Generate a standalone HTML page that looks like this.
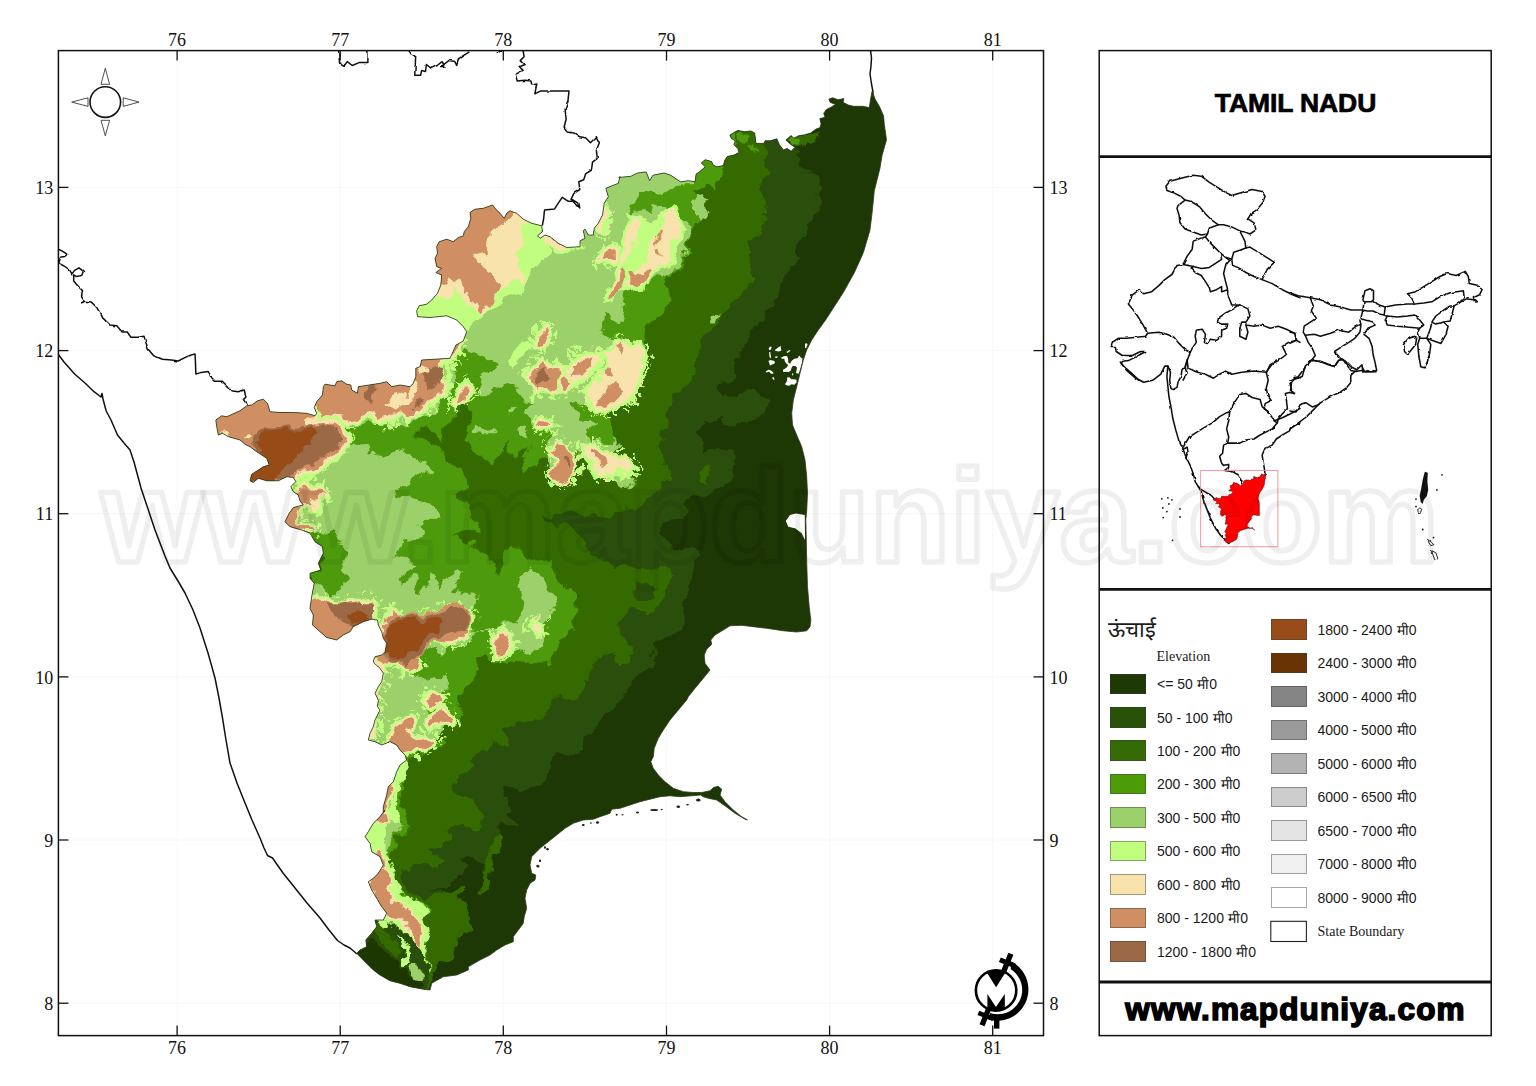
<!DOCTYPE html>
<html><head><meta charset="utf-8"><title>Tamil Nadu Elevation Map</title>
<style>
html,body{margin:0;padding:0;background:#fff;}
body{width:1536px;height:1086px;overflow:hidden;position:relative;font-family:"Liberation Serif",serif;color:#111;}
svg{position:absolute;left:0;top:0;}
.tick{position:absolute;font-family:"Liberation Serif",serif;font-size:18px;line-height:18px;color:#111;white-space:nowrap;}
.title{position:absolute;left:1100px;top:84px;width:391px;text-align:center;font-family:"Liberation Sans",sans-serif;font-weight:bold;font-size:26.5px;line-height:38px;color:#000;letter-spacing:-0.1px;-webkit-text-stroke:0.7px #000;}
.url{position:absolute;left:1100px;top:989.3px;width:391px;text-align:center;font-family:"Liberation Sans",sans-serif;font-weight:bold;font-size:31.5px;line-height:40px;color:#000;letter-spacing:1.15px;-webkit-text-stroke:1.6px #000;white-space:nowrap;}
.lg{position:absolute;font-family:"Liberation Sans",sans-serif;font-size:14px;line-height:20px;color:#1a1a1a;white-space:nowrap;}
.lgs{position:absolute;font-family:"Liberation Serif",serif;font-size:14px;line-height:20px;color:#1a1a1a;white-space:nowrap;}
.sw{position:absolute;width:36.6px;height:20.6px;box-sizing:border-box;border:1px solid rgba(60,60,60,.45);}
.mi{margin-left:0.5px;}
</style></head><body>
<svg width="1536" height="1086" viewBox="0 0 1536 1086">
<defs>
<clipPath id="frame"><rect x="58.4" y="50.6" width="985.1" height="984.9999999999999"/></clipPath>
<clipPath id="state"><path d="M872.1 91.3 L870.8 97.8 L869.3 107.6 L862.8 106.3 L853.6 106.3 L848.4 105.0 L843.2 102.4 L843.9 98.5 L838.0 99.8 L832.8 97.8 L828.9 99.1 L830.2 102.4 L835.4 104.3 L831.5 106.9 L826.3 109.5 L823.7 113.4 L825.0 117.3 L819.8 118.6 L821.1 123.9 L819.8 127.8 L815.9 129.1 L810.7 133.0 L804.2 134.9 L799.0 135.6 L793.8 138.2 L791.1 135.6 L785.9 140.1 L791.1 144.7 L795.1 147.3 L791.1 151.2 L787.2 148.6 L783.3 149.9 L779.4 144.7 L776.8 138.8 L770.3 140.8 L765.1 140.8 L763.8 143.4 L756.0 143.4 L754.7 133.0 L750.8 131.0 L744.3 131.7 L737.8 130.4 L729.9 134.9 L731.2 138.2 L735.2 140.8 L733.9 144.7 L737.8 148.6 L739.1 152.5 L733.9 155.1 L727.3 156.4 L724.7 160.3 L723.4 165.5 L716.9 166.8 L713.0 164.9 L711.7 161.6 L705.2 159.7 L701.3 162.9 L705.2 166.8 L700.0 171.4 L696.1 174.1 L695.0 181.8 L688.4 180.7 L680.6 181.8 L670.7 175.2 L664.0 173.0 L653.0 175.2 L649.6 180.7 L646.3 171.9 L637.5 173.0 L630.8 176.3 L618.7 177.4 L620.0 176.7 L618.3 183.3 L605.8 188.3 L608.3 196.7 L604.2 203.3 L602.5 215.0 L598.3 223.3 L594.2 228.3 L593.3 235.0 L588.3 235.0 L585.0 229.2 L583.3 230.8 L585.0 238.3 L580.0 240.8 L580.0 246.7 L566.7 247.5 L558.3 243.3 L550.0 236.7 L545.0 235.0 L540.0 238.3 L537.5 235.8 L542.5 231.7 L541.7 225.8 L531.7 223.3 L523.3 219.2 L516.7 213.3 L510.0 210.8 L506.7 213.3 L504.2 218.3 L500.0 213.3 L495.8 209.2 L492.5 205.0 L483.3 208.3 L475.0 209.2 L470.0 212.5 L470.8 218.3 L468.3 226.7 L464.2 231.7 L463.3 235.8 L458.3 237.5 L453.3 241.7 L446.7 239.2 L439.2 241.7 L436.7 246.7 L437.5 253.3 L435.0 258.3 L436.7 266.7 L441.7 268.3 L435.8 272.5 L441.7 275.0 L440.8 285.0 L437.5 293.3 L431.7 300.0 L426.7 304.2 L419.2 305.8 L416.7 310.8 L417.5 316.7 L430.0 317.5 L446.7 315.8 L456.7 320.0 L463.3 326.7 L466.7 331.7 L463.3 341.0 L456.0 345.0 L450.0 358.3 L421.7 360.0 L420.0 366.7 L415.8 368.3 L415.8 376.7 L413.3 383.3 L410.0 386.7 L400.0 385.0 L391.7 386.7 L386.7 381.7 L380.0 383.3 L358.3 386.7 L357.5 393.3 L351.7 390.0 L350.8 385.0 L346.7 384.2 L341.7 380.8 L336.7 381.7 L335.0 385.8 L325.0 384.2 L323.3 386.7 L322.5 395.0 L316.7 401.7 L314.2 407.5 L316.7 413.3 L315.0 415.8 L306.7 413.3 L293.3 412.5 L280.0 412.5 L270.0 411.7 L267.5 403.3 L263.3 399.2 L257.5 400.8 L251.7 405.0 L246.7 405.8 L240.0 410.8 L226.7 416.7 L221.7 415.8 L215.8 420.0 L216.7 426.7 L218.3 435.0 L222.5 433.3 L228.3 436.7 L240.0 440.0 L245.0 444.2 L250.0 446.7 L256.7 451.7 L261.7 455.0 L266.7 458.3 L269.2 465.0 L263.3 466.7 L258.3 470.0 L251.7 474.2 L250.0 480.8 L253.3 482.5 L258.3 478.3 L266.7 480.8 L278.3 480.8 L286.7 476.7 L293.3 477.5 L295.8 481.7 L290.8 486.7 L293.3 491.7 L298.3 495.0 L300.0 501.0 L303.3 505.0 L293.3 507.5 L289.2 513.3 L285.0 521.7 L290.0 526.7 L301.7 530.0 L310.0 533.3 L315.0 541.7 L322.5 546.7 L323.3 553.3 L318.3 563.3 L320.8 570.0 L310.0 573.3 L310.0 578.3 L314.2 583.3 L311.7 596.7 L310.0 608.3 L313.3 615.0 L312.5 625.0 L320.0 631.7 L326.7 637.5 L336.7 640.0 L343.3 635.0 L350.0 631.7 L353.3 626.7 L363.3 621.7 L371.7 619.2 L377.5 620.0 L378.3 625.0 L381.7 631.7 L383.3 638.3 L386.7 643.3 L385.0 651.7 L381.7 655.0 L375.0 656.7 L373.3 661.0 L374.2 663.3 L380.0 668.3 L383.3 673.3 L381.7 681.7 L378.3 686.7 L375.0 693.3 L378.3 700.0 L377.5 706.7 L380.0 710.0 L375.0 720.0 L373.3 726.7 L370.0 733.3 L368.3 740.0 L375.0 741.7 L381.7 745.0 L390.0 741.7 L396.7 745.0 L400.0 750.0 L405.0 755.0 L406.7 760.0 L400.0 765.0 L396.7 771.7 L393.3 781.7 L388.3 786.7 L386.7 795.0 L383.3 806.7 L383.3 813.3 L385.0 810.0 L380.0 816.7 L373.3 823.3 L368.3 831.7 L365.0 836.7 L370.0 843.3 L371.7 851.7 L380.0 856.7 L383.3 865.0 L378.3 873.3 L373.3 878.3 L368.3 881.7 L371.7 890.0 L376.7 898.3 L381.7 906.7 L386.7 913.3 L383.3 920.0 L375.0 920.0 L376.7 926.7 L371.7 933.3 L365.8 940.0 L366.7 946.7 L360.0 950.0 L356.7 953.3 L363.3 960.0 L373.3 970.0 L380.0 975.0 L390.0 980.8 L400.0 983.3 L410.0 986.7 L423.3 989.2 L430.0 990.0 L431.7 983.3 L443.3 976.7 L456.7 975.0 L468.3 970.0 L468.3 966.7 L480.0 960.0 L490.0 955.0 L496.7 950.0 L505.0 945.0 L513.3 941.7 L513.3 936.7 L518.3 930.0 L523.3 923.3 L524.2 916.7 L526.7 908.3 L525.0 898.3 L526.7 890.0 L530.0 883.3 L535.0 880.0 L535.8 875.0 L531.7 873.3 L530.0 865.0 L531.7 856.7 L540.0 848.3 L548.3 841.7 L556.7 835.0 L565.0 828.3 L573.3 823.3 L583.3 820.0 L593.3 819.2 L600.0 816.7 L610.0 813.3 L611.7 809.2 L620.0 808.3 L630.0 805.0 L640.0 801.7 L650.0 799.2 L660.0 796.7 L670.0 795.8 L680.0 796.7 L691.7 795.8 L700.8 795.0 L703.3 796.7 L708.3 798.3 L716.7 800.0 L725.0 805.8 L735.0 813.3 L745.0 819.2 L747.5 820.0 L741.7 816.7 L733.3 810.0 L725.0 801.7 L720.0 795.0 L721.7 789.2 L718.3 786.3 L713.3 787.5 L710.0 790.8 L701.7 792.5 L693.3 792.5 L683.3 791.7 L673.3 788.3 L665.0 781.7 L658.3 775.0 L653.3 768.3 L650.8 761.7 L653.3 756.7 L654.2 748.3 L658.3 738.3 L663.3 730.0 L670.0 720.0 L678.3 710.0 L686.7 700.0 L688.3 696.7 L695.0 688.3 L703.3 678.3 L710.0 670.0 L705.0 663.3 L704.2 655.0 L706.7 649.2 L711.7 644.2 L710.8 640.0 L715.0 635.0 L723.3 630.0 L730.0 625.8 L741.7 625.3 L753.3 626.7 L766.7 628.3 L783.3 630.8 L796.7 632.0 L806.7 630.8 L810.0 626.7 L810.8 620.0 L809.2 606.7 L807.5 586.7 L806.7 561.7 L806.3 540.0 L805.8 520.0 L806.7 511.0 L807.5 493.3 L806.7 476.7 L805.0 460.0 L801.7 446.7 L796.7 435.0 L792.5 425.0 L791.7 413.3 L793.3 400.0 L796.7 386.7 L800.0 373.3 L803.3 360.0 L806.7 350.0 L811.7 340.0 L818.3 330.0 L825.6 319.9 L843.3 292.5 L854.4 272.6 L863.3 252.7 L869.9 230.5 L872.1 212.8 L874.3 190.7 L879.9 168.5 L882.1 155.3 L886.5 139.8 L884.3 124.3 L883.6 116.0 L879.7 106.9 L875.1 99.1 L873.2 93.9Z"/></clipPath>
<filter id="rough" x="-5%" y="-5%" width="110%" height="110%"><feTurbulence type="fractalNoise" baseFrequency="0.055" numOctaves="4" seed="11" result="n"/><feDisplacementMap in="SourceGraphic" in2="n" scale="17" xChannelSelector="R" yChannelSelector="G"/></filter>
<filter id="wig2" x="-5%" y="-5%" width="110%" height="110%"><feTurbulence type="fractalNoise" baseFrequency="0.11" numOctaves="2" seed="5" result="n"/><feDisplacementMap in="SourceGraphic" in2="n" scale="2.6" xChannelSelector="R" yChannelSelector="G"/></filter>
<filter id="speck" x="-5%" y="-5%" width="110%" height="110%"><feTurbulence type="fractalNoise" baseFrequency="0.19" numOctaves="2" seed="21" result="n"/><feColorMatrix in="n" type="matrix" values="0 0 0 0 0  0 0 0 0 0  0 0 0 0 0  28 0 0 0 -15.7" result="m"/><feComposite in="SourceGraphic" in2="m" operator="in"/></filter>
<filter id="speck2" x="-5%" y="-5%" width="110%" height="110%"><feTurbulence type="fractalNoise" baseFrequency="0.23" numOctaves="2" seed="33" result="n"/><feColorMatrix in="n" type="matrix" values="0 0 0 0 0  0 0 0 0 0  0 0 0 0 0  0 28 0 0 -15.9" result="m"/><feComposite in="SourceGraphic" in2="m" operator="in"/></filter>
</defs>

<g stroke="#f8f8f8" stroke-width="1"><line x1="177.1" y1="50.6" x2="177.1" y2="1035.6"/><line x1="340.2" y1="50.6" x2="340.2" y2="1035.6"/><line x1="503.3" y1="50.6" x2="503.3" y2="1035.6"/><line x1="666.5" y1="50.6" x2="666.5" y2="1035.6"/><line x1="829.6" y1="50.6" x2="829.6" y2="1035.6"/><line x1="992.7" y1="50.6" x2="992.7" y2="1035.6"/><line x1="58.4" y1="1003.2" x2="1043.5" y2="1003.2"/><line x1="58.4" y1="840.0" x2="1043.5" y2="840.0"/><line x1="58.4" y1="676.9" x2="1043.5" y2="676.9"/><line x1="58.4" y1="513.7" x2="1043.5" y2="513.7"/><line x1="58.4" y1="350.6" x2="1043.5" y2="350.6"/><line x1="58.4" y1="187.4" x2="1043.5" y2="187.4"/></g>
<g clip-path="url(#frame)" fill="none" stroke="#111" stroke-width="1.5" stroke-linejoin="round">
<path d="M58.0 354.0 L64.0 362.0 L74.6 374.0 L85.0 383.0 L94.0 391.7 L101.0 397.0 L102.0 393.5 L103.0 399.0 L106.2 411.0 L111.0 420.0 L117.5 435.0 L124.0 443.0 L130.0 450.0 L134.0 462.0 L137.5 475.0 L141.0 488.0 L145.0 500.0 L150.0 515.0 L155.0 530.0 L160.0 543.0 L165.0 556.0 L170.0 568.0 L178.0 581.0 L185.0 593.0 L193.0 610.0 L200.0 628.0 L208.0 653.0 L215.0 678.0 L219.0 698.0 L222.5 718.0 L226.0 740.0 L230.0 763.0 L237.0 783.0 L245.0 803.0 L252.0 820.0 L260.0 838.0 L264.0 848.0 L267.5 855.5 L272.5 858.0 L283.0 873.0 L295.0 888.0 L307.0 903.0 L320.0 918.0 L329.0 930.0 L337.5 940.5 L344.0 945.0 L350.0 948.0 L357.0 954.0"/>
<path d="M58.4 249.3 L62.3 251.1 L67.6 254.6 L65.8 256.4 L60.5 257.2 L58.8 263.4 L64.1 266.0 L69.3 269.6 L72.0 273.9 L74.6 270.4 L79.0 267.8 L83.4 271.3 L81.6 275.7 L76.4 276.6 L73.7 274.8 L73.7 281.0 L78.1 286.2 L82.5 290.6 L81.6 296.8 L84.3 301.2 L81.6 302.9 L85.2 301.2 L91.3 302.1 L96.6 307.3 L101.0 314.4 L102.7 317.9 L109.8 324.9 L116.8 325.8 L122.1 332.0 L127.3 332.0 L130.9 337.2 L137.9 337.2 L144.0 336.3 L145.8 342.5 L148.4 349.5 L153.7 355.7 L162.5 359.2 L171.3 360.1 L178.3 361.0 L185.3 357.4 L190.6 355.2 L195.0 353.9 L195.5 363.6 L195.9 374.1 L201.2 372.4 L208.2 371.5 L211.7 377.7 L215.2 381.2 L222.3 381.2 L227.5 386.4 L231.1 390.8 L238.1 391.7 L244.2 390.0 L246.0 397.0 L243.4 399.6 L246.0 403.1 L248.6 405.8" filter="url(#wig2)"/>
<path d="M523.1 50.9 L524.1 56.7 L520.2 60.6 L524.1 64.5 L519.2 66.5 L523.1 70.4 L515.3 74.3 L517.3 81.1 L525.1 80.2 L530.9 81.1 L531.9 85.0 L536.8 84.1 L534.8 93.8 L540.7 90.9 L550.5 90.9 L560.2 90.9 L569.0 90.9 L568.0 101.6 L565.1 109.5 L566.1 119.2 L564.1 127.0 L568.0 131.9 L573.9 132.9 L579.8 136.8 L585.6 137.8 L590.5 142.7 L596.4 136.8 L599.3 142.7 L596.4 150.5 L597.3 158.3 L592.5 162.2 L591.5 170.0 L585.6 173.9 L583.7 179.8 L578.8 181.7 L579.8 189.5 L573.9 193.4 L571.0 199.3 L575.9 201.2 L578.8 203.2 L579.8 208.1 L573.9 201.2 L568.0 201.2 L562.2 197.3 L558.3 203.2 L554.4 209.1 L544.6 210.0 L543.6 218.8 L542.3 225.7" filter="url(#wig2)"/>
<path d="M338.6 50.9 L339.5 62.6 L344.4 65.5 L347.3 61.6 L352.2 65.5 L359.1 62.6 L367.9 62.6 L367.9 50.9" filter="url(#wig2)"/>
<path d="M408.9 50.9 L411.8 54.8 L415.7 56.7 L414.7 75.3 L420.6 75.3 L421.6 70.4 L425.5 71.4 L426.4 64.5 L431.3 68.4 L437.2 65.5 L442.1 61.6 L445.0 66.5 L441.1 66.5 L448.9 60.6 L454.8 61.6 L456.7 65.5 L458.7 58.7 L464.5 54.8 L469.4 51.8" filter="url(#wig2)"/>
<path d="M496.8 50.9 L498.7 52.0 L501.6 50.9" filter="url(#wig2)"/>
<path d="M870.5 50.0 L871.5 58.0 L871.0 66.0 L870.0 74.0 L871.5 84.0 L873.0 92.0 L872.5 96.0"/>
</g>
<g clip-path="url(#state)">
<rect x="200" y="80" width="720" height="930" fill="#1d3705"/>
<g filter="url(#rough)">
<path d="M792.0 138.0 L794.6 154.1 L799.0 164.1 L814.5 168.5 L822.0 178.0 L817.5 191.5 L822.5 202.0 L818.0 210.6 L810.0 212.5 L807.5 228.0 L808.0 235.0 L802.0 243.0 L800.0 249.0 L795.5 256.0 L790.0 265.0 L789.0 275.0 L782.5 285.0 L777.0 293.0 L778.0 303.0 L768.0 309.0 L763.5 320.0 L755.0 326.7 L748.0 333.0 L748.3 340.0 L743.3 346.7 L740.0 356.7 L736.7 366.7 L733.3 376.7 L726.7 383.3 L720.0 388.3 L730.0 396.7 L740.0 396.7 L746.7 393.3 L756.7 391.7 L765.0 396.7 L773.3 396.7 L768.3 406.7 L760.0 413.3 L753.3 418.3 L743.3 423.3 L736.7 428.3 L726.7 428.3 L721.7 423.3 L720.0 415.0 L715.0 423.3 L708.3 423.3 L705.0 418.3 L701.7 426.7 L696.7 433.3 L700.0 443.3 L703.3 453.3 L708.3 450.0 L716.7 446.7 L726.7 450.0 L736.7 453.3 L735.0 461.7 L730.0 470.0 L728.3 480.0 L723.3 488.3 L713.3 495.0 L705.0 500.0 L692.8 499.2 L686.2 501.4 L688.4 510.3 L683.9 517.0 L670.0 523.3 L660.0 530.0 L663.3 538.3 L666.7 543.3 L678.3 548.3 L690.0 548.3 L695.8 555.0 L695.0 566.7 L690.8 578.3 L690.0 590.0 L683.3 598.3 L686.7 613.3 L682.0 624.0 L676.7 628.3 L668.3 636.7 L658.3 645.0 L653.3 656.7 L646.7 666.7 L640.0 675.0 L630.0 686.7 L623.3 695.0 L618.3 703.3 L610.0 711.7 L600.0 721.7 L591.7 730.0 L588.0 742.0 L580.0 750.0 L571.0 756.0 L560.0 756.7 L551.7 756.0 L550.0 765.0 L552.0 774.0 L546.0 781.0 L534.0 787.0 L521.7 791.0 L510.0 787.0 L503.3 790.0 L500.0 800.0 L507.2 800.0 L510.7 807.0 L507.2 815.2 L513.0 823.4 L500.2 828.1 L502.5 835.2 L507.2 839.8 L504.8 849.2 L492.0 855.1 L490.8 870.3 L487.3 882.0 L483.8 893.8 L479.1 891.4 L482.6 882.0 L483.8 872.7 L479.1 865.6 L472.0 858.6 L466.2 855.1 L460.3 858.6 L465.0 865.6 L462.7 871.5 L453.3 877.3 L448.6 884.4 L441.6 887.9 L432.2 888.5 L441.6 892.6 L450.9 894.9 L458.0 891.4 L465.0 886.7 L465.0 893.8 L460.3 899.6 L465.0 905.5 L470.9 912.5 L473.2 919.5 L472.0 927.0 L470.0 930.0 L461.7 936.7 L456.7 943.3 L453.3 953.3 L445.0 960.0 L436.7 965.0 L433.3 973.3 L431.7 983.3 L431.0 1000.0 L150.0 1010.0 L150.0 70.0 L792.0 70.0Z" fill="#295007"/>
<path d="M764.0 138.0 L763.6 144.2 L765.8 153.0 L765.0 162.0 L768.5 176.0 L758.5 183.5 L761.5 193.0 L767.5 201.5 L765.0 214.0 L764.0 224.0 L759.5 235.0 L748.2 241.6 L752.0 253.0 L750.0 265.0 L754.0 278.0 L746.5 286.5 L743.5 293.0 L733.5 300.0 L731.0 308.0 L723.5 316.7 L718.0 326.7 L708.0 333.0 L700.0 340.0 L696.7 350.0 L700.0 357.0 L695.1 368.0 L689.0 375.0 L692.0 381.0 L687.0 388.2 L685.0 396.0 L674.5 395.2 L670.3 403.4 L662.5 411.5 L662.3 417.0 L667.5 423.3 L667.5 432.0 L662.5 438.5 L656.5 445.5 L660.5 455.0 L665.0 462.0 L671.5 469.0 L667.0 477.0 L656.5 482.5 L658.0 492.0 L650.0 503.0 L646.0 509.0 L636.7 510.0 L623.3 508.3 L613.3 518.3 L600.0 515.0 L590.0 511.7 L580.0 518.3 L568.3 515.0 L556.7 513.3 L545.0 518.3 L553.3 521.7 L563.3 523.3 L573.3 530.0 L580.0 538.3 L590.0 546.7 L596.7 553.3 L606.7 563.3 L613.3 570.0 L626.7 566.7 L636.7 570.0 L650.0 568.3 L662.0 568.0 L671.7 573.3 L668.0 590.0 L660.0 606.0 L645.0 612.0 L630.0 612.0 L621.7 620.0 L621.7 635.0 L628.3 645.0 L633.3 653.3 L626.7 660.0 L618.3 663.3 L613.3 656.7 L605.0 651.7 L598.3 661.7 L590.0 666.7 L585.0 676.7 L583.3 686.7 L580.0 696.7 L573.3 700.0 L565.0 695.0 L555.0 701.7 L546.7 710.0 L541.7 716.0 L530.0 720.0 L515.0 720.5 L506.7 729.0 L511.0 738.0 L508.3 746.7 L501.0 745.0 L493.3 741.0 L488.0 750.0 L477.0 751.0 L470.0 756.7 L473.3 766.7 L466.7 773.3 L456.7 780.0 L451.7 786.7 L456.7 793.3 L466.7 795.0 L474.0 800.0 L474.4 807.0 L479.1 811.7 L481.4 823.4 L476.7 829.3 L472.0 825.8 L465.0 821.1 L460.3 823.4 L453.3 831.6 L448.6 841.0 L440.4 845.7 L434.5 850.4 L425.2 852.7 L436.9 856.2 L443.9 863.3 L436.9 866.8 L425.2 865.6 L413.4 868.0 L401.7 872.7 L400.5 879.7 L405.2 889.1 L413.4 896.1 L422.8 899.6 L429.8 896.1 L441.6 892.6 L450.9 894.9 L458.0 891.4 L465.0 886.7 L465.0 893.8 L460.3 899.6 L465.0 905.5 L470.9 912.5 L473.2 919.5 L472.0 927.0 L470.0 930.0 L461.7 936.7 L456.7 943.3 L453.3 953.3 L445.0 960.0 L436.7 965.0 L433.3 973.3 L431.7 983.3 L431.0 1000.0 L150.0 1010.0 L150.0 70.0 L764.0 70.0Z" fill="#346b06"/>
<path d="M635.0 582.0 L648.0 580.0 L656.0 590.0 L652.0 602.0 L640.0 603.0 L634.0 594.0Z" fill="#295007"/>
<path d="M492.0 855.1 L504.8 849.2 L507.2 839.8 L502.5 835.2 L495.5 838.7 L490.8 846.9 L486.1 856.2 L482.6 863.3 L483.8 872.7 L482.6 882.0 L479.1 891.4 L483.8 893.8 L487.3 882.0 L490.8 870.3Z" fill="#346b06"/>
<path d="M697.4 477.2 L702.1 469.0 L710.3 467.8 L709.1 472.5 L705.6 477.2 L710.3 481.9 L700.9 481.9Z" fill="#346b06"/>
<path d="M738.0 138.0 L737.8 151.2 L731.0 154.0 L726.0 157.7 L722.0 163.0 L720.8 168.1 L719.5 178.5 L716.7 188.3 L708.3 185.0 L701.7 191.7 L693.3 193.3 L700.0 198.3 L710.0 200.0 L708.3 210.0 L706.7 218.3 L696.7 225.0 L690.0 230.0 L691.7 238.3 L686.7 246.7 L693.3 253.3 L683.3 256.7 L678.3 263.3 L675.0 273.3 L666.7 281.7 L670.0 291.7 L671.7 301.7 L663.3 308.3 L655.0 315.0 L645.0 323.0 L641.7 330.0 L646.7 340.0 L644.0 350.0 L639.0 362.0 L638.3 376.7 L637.0 393.3 L630.0 400.0 L621.0 406.0 L611.7 411.5 L611.5 421.5 L614.0 432.0 L616.5 443.0 L612.5 452.5 L623.3 461.0 L634.0 466.7 L628.3 475.0 L635.0 480.0 L638.3 486.7 L630.0 483.3 L618.3 485.0 L613.3 480.0 L606.7 476.7 L596.7 473.3 L591.7 466.7 L586.7 458.3 L583.3 450.0 L576.7 461.7 L575.0 470.0 L570.0 480.0 L556.7 483.3 L550.0 478.3 L550.0 465.0 L546.7 458.3 L536.7 461.7 L530.0 466.7 L523.3 473.3 L520.0 466.7 L523.3 456.7 L528.3 448.3 L521.7 451.7 L513.3 458.3 L508.3 453.3 L510.0 443.3 L501.7 455.0 L496.7 466.7 L493.3 470.0 L488.3 463.3 L480.0 455.0 L471.7 448.3 L463.3 440.0 L458.3 435.0 L453.3 440.0 L446.7 443.3 L438.0 436.0 L430.0 430.0 L425.0 428.0 L418.0 430.0 L416.0 436.0 L422.0 442.0 L430.0 443.3 L440.0 446.7 L448.3 453.3 L453.3 463.3 L461.7 470.0 L465.0 480.0 L466.7 490.0 L456.7 498.3 L468.3 505.0 L470.0 515.0 L483.3 520.0 L480.0 528.3 L465.0 530.0 L453.3 535.0 L470.0 540.0 L475.0 550.0 L483.3 558.3 L493.3 561.7 L500.0 576.7 L503.3 566.7 L506.7 555.0 L513.3 546.7 L520.0 553.3 L526.7 556.7 L536.7 558.3 L546.7 563.3 L553.3 561.7 L556.7 570.0 L558.3 580.0 L563.3 586.7 L575.0 593.3 L576.7 603.3 L575.0 613.3 L573.0 621.7 L577.0 629.0 L570.0 634.0 L563.3 638.3 L556.7 643.3 L553.3 653.3 L550.0 660.0 L543.3 662.5 L533.3 665.0 L523.3 663.3 L508.3 665.0 L500.0 661.7 L488.3 656.7 L478.3 661.7 L483.3 668.3 L475.0 675.0 L471.7 683.3 L466.7 690.0 L460.0 696.7 L458.3 706.7 L466.7 711.7 L460.0 718.3 L450.0 723.3 L443.3 726.7 L433.3 733.3 L426.7 738.3 L433.3 740.0 L441.7 741.7 L446.7 746.7 L433.3 750.0 L420.0 755.0 L413.3 760.0 L408.3 766.7 L405.0 773.3 L403.3 781.7 L401.7 790.0 L400.0 798.3 L401.7 806.7 L406.7 813.3 L406.7 821.0 L405.0 830.0 L395.0 840.0 L392.0 850.0 L388.0 862.0 L392.0 872.0 L397.0 880.0 L402.0 890.0 L405.0 897.0 L430.0 903.0 L431.7 910.0 L425.0 916.7 L426.7 926.7 L430.0 936.7 L428.3 946.7 L426.7 956.7 L430.0 970.0 L428.3 976.7 L428.0 1000.0 L150.0 1010.0 L150.0 70.0 L738.0 70.0Z" fill="#4d9b07"/>
<path d="M740.0 136.0 L747.0 133.0 L752.0 138.0 L748.0 143.0 L742.0 142.0Z" fill="#4d9b07"/>
<path d="M745.0 146.0 L752.0 144.0 L756.0 148.0 L750.0 151.0Z" fill="#4d9b07"/>
<path d="M786.0 141.0 L795.0 136.0 L812.0 134.0 L825.0 133.0 L822.0 140.0 L808.0 143.0 L796.0 146.0Z" fill="#346b06"/>
<path d="M786.0 141.0 L795.0 137.0 L803.0 138.0 L800.0 144.0 L792.0 146.0Z" fill="#4d9b07"/>
<path d="M695.0 160.0 L695.0 176.7 L695.0 183.3 L683.3 183.3 L670.0 185.0 L656.7 191.7 L648.3 193.3 L636.7 191.7 L636.7 201.7 L630.0 211.7 L638.3 208.3 L646.7 206.7 L650.0 215.0 L658.3 203.3 L668.3 210.0 L678.3 211.7 L681.7 218.3 L688.3 223.3 L690.0 230.0 L689.0 238.0 L684.0 247.0 L690.0 253.0 L681.0 257.0 L676.0 263.0 L672.0 273.0 L664.0 281.0 L658.3 276.7 L650.0 283.3 L641.7 286.7 L633.3 291.7 L625.0 295.0 L621.7 305.0 L623.3 315.0 L620.0 323.3 L610.0 320.0 L603.3 316.7 L601.7 330.0 L610.0 336.7 L618.3 341.7 L626.7 338.3 L635.0 341.7 L645.0 345.0 L643.3 350.0 L638.3 363.3 L638.3 376.7 L636.7 393.3 L630.0 398.0 L620.0 403.0 L611.0 410.0 L600.0 406.7 L593.3 400.0 L583.3 401.7 L573.3 405.0 L576.7 413.3 L580.0 421.7 L590.0 420.0 L596.7 423.3 L590.0 426.7 L583.3 433.3 L586.7 440.0 L595.0 443.3 L600.0 436.7 L610.0 440.0 L615.0 437.0 L618.3 446.7 L613.3 453.3 L623.3 460.0 L635.0 466.7 L628.3 475.0 L635.0 480.0 L636.0 486.0 L630.0 483.3 L618.3 485.0 L613.3 480.0 L606.7 476.7 L596.7 473.3 L591.7 466.7 L586.7 458.3 L583.3 449.0 L577.0 451.0 L575.0 462.0 L574.0 472.0 L570.0 480.0 L556.7 483.3 L550.0 478.3 L550.0 465.0 L546.7 458.3 L550.0 446.7 L553.3 436.7 L546.7 430.0 L533.3 428.3 L528.3 420.0 L530.0 410.0 L536.7 401.7 L523.3 401.7 L515.0 396.7 L516.7 388.3 L510.0 385.0 L496.7 388.3 L485.0 393.3 L471.7 393.3 L478.3 386.7 L483.3 378.3 L488.3 370.0 L498.3 365.0 L488.3 360.0 L478.3 356.7 L471.7 351.7 L463.3 353.3 L455.0 358.3 L453.3 366.7 L456.7 375.0 L453.3 386.7 L450.0 395.0 L440.0 400.0 L433.3 413.3 L423.3 416.7 L413.3 421.7 L400.0 423.3 L390.0 426.7 L380.0 423.3 L370.0 421.7 L360.0 426.7 L350.0 428.3 L343.3 426.7 L346.7 436.7 L350.0 443.3 L343.3 453.3 L300.0 500.0 L200.0 500.0 L200.0 160.0Z" fill="#9bd06a"/>
<path d="M343.3 453.3 L346.7 446.7 L356.7 443.3 L366.7 441.7 L368.3 446.7 L365.0 451.7 L375.0 455.0 L386.7 456.7 L396.7 451.7 L401.7 450.0 L408.3 455.0 L415.0 460.0 L423.3 465.0 L431.7 470.0 L433.3 473.3 L423.3 475.0 L415.0 473.3 L410.0 478.3 L406.7 485.0 L400.0 488.3 L395.0 490.0 L396.7 496.7 L413.3 501.7 L435.0 508.3 L440.0 513.3 L425.0 518.3 L418.3 525.0 L423.3 531.7 L418.3 538.3 L403.3 541.7 L400.0 546.7 L390.0 553.3 L396.7 553.3 L411.7 556.7 L413.3 566.7 L403.3 571.7 L398.3 576.7 L401.7 586.7 L406.7 578.3 L415.0 576.7 L418.3 588.3 L421.7 596.7 L425.0 586.7 L430.0 578.3 L438.3 580.0 L441.7 586.7 L446.7 578.3 L451.7 570.0 L460.0 565.0 L465.0 568.3 L460.0 575.0 L455.0 582.0 L456.7 592.0 L463.3 595.0 L476.7 596.7 L490.0 585.0 L505.0 578.0 L520.0 575.0 L525.0 573.3 L530.0 568.3 L540.0 573.3 L545.0 580.0 L543.3 588.3 L550.0 596.7 L556.7 606.7 L550.0 613.3 L545.0 621.7 L546.7 630.0 L543.3 638.3 L536.7 646.7 L530.0 653.3 L523.3 656.0 L513.3 655.0 L506.7 656.7 L496.7 655.0 L491.7 650.0 L490.0 640.0 L491.7 633.3 L486.7 631.0 L478.3 632.5 L472.0 636.0 L468.0 640.0 L460.0 646.7 L450.0 648.3 L443.3 651.7 L433.3 650.0 L423.3 653.3 L416.7 660.0 L415.0 668.3 L416.7 675.0 L423.3 681.7 L433.3 680.0 L445.0 676.7 L450.0 681.7 L445.0 688.3 L438.3 695.0 L433.3 703.3 L426.7 710.0 L431.7 713.3 L438.3 711.7 L446.7 713.3 L455.0 718.3 L450.0 726.7 L443.3 728.3 L436.7 733.3 L433.3 741.7 L426.7 746.7 L416.7 751.7 L408.3 755.0 L406.7 760.0 L408.3 766.7 L405.0 773.3 L401.7 781.7 L398.3 790.0 L396.7 798.3 L398.3 806.7 L400.0 821.0 L401.0 830.0 L392.0 840.0 L389.0 850.0 L385.0 862.0 L389.0 872.0 L394.0 880.0 L399.0 890.0 L402.0 897.0 L426.0 903.0 L428.0 910.0 L422.0 917.0 L423.0 927.0 L427.0 937.0 L425.0 947.0 L423.0 957.0 L427.0 968.0 L427.0 1000.0 L200.0 1000.0 L200.0 460.0Z" fill="#9bd06a"/>
<path d="M480.0 596.7 L483.3 586.7 L490.0 580.0 L496.7 578.3 L500.0 572.0 L503.3 566.7 L506.7 555.0 L513.3 546.7 L520.0 553.3 L523.3 563.3 L525.0 573.3 L520.0 586.7 L521.7 600.0 L520.0 613.3 L513.3 620.0 L503.3 621.7 L496.7 626.7 L486.7 630.0 L478.3 631.7 L475.0 626.7 L473.3 616.7 L475.0 606.7 L476.7 596.7Z" fill="#4d9b07"/>
<path d="M300.0 533.0 L310.0 533.3 L323.3 531.7 L331.7 535.0 L336.7 543.3 L346.7 548.3 L345.0 558.3 L341.7 566.7 L346.7 575.0 L345.0 586.7 L338.3 590.0 L333.3 596.7 L326.7 590.0 L320.0 583.3 L314.2 583.3 L300.0 584.0Z" fill="#4d9b07"/>
<path d="M300.0 538.0 L314.0 540.0 L322.0 548.0 L323.0 560.0 L319.0 572.0 L312.0 580.0 L300.0 582.0Z" fill="#346b06"/>
<path d="M692.0 200.0 L700.0 197.0 L708.0 200.0 L710.0 210.0 L706.0 220.0 L698.0 224.0 L692.0 215.0Z" fill="#9bd06a"/>
<path d="M710.0 318.3 L715.0 316.7 L719.2 320.0 L717.5 325.0 L712.5 325.8Z" fill="#9bd06a"/>
<path d="M541.7 233.3 L546.7 243.3 L550.0 253.3 L546.7 260.0 L540.0 263.3 L533.3 266.7 L531.7 276.7 L526.7 286.7 L520.0 293.3 L508.3 300.0 L500.0 306.7 L493.3 310.0 L483.3 318.3 L473.3 323.3 L466.7 330.0 L463.0 338.0 L400.0 338.0 L400.0 200.0 L541.0 200.0Z" fill="#c1fd7f"/>
<path d="M541.7 233.3 L545.0 235.0 L558.3 243.3 L566.7 247.5 L580.0 246.7 L578.0 252.0 L565.0 254.0 L552.0 252.0 L546.7 243.3Z" fill="#c1fd7f"/>
<path d="M528.3 223.3 L523.3 230.0 L525.0 240.0 L521.7 250.0 L515.0 255.0 L516.7 266.7 L523.3 276.7 L525.0 286.7 L520.0 288.3 L515.0 281.7 L506.7 283.3 L500.0 286.7 L496.7 290.0 L493.3 300.0 L490.0 308.3 L483.3 316.7 L478.3 313.3 L473.3 306.7 L466.7 303.3 L461.7 293.3 L455.0 290.0 L450.0 293.3 L443.3 298.3 L438.3 295.0 L425.0 295.0 L425.0 200.0 L530.0 200.0Z" fill="#f8e3ad"/>
<path d="M543.3 235.0 L550.0 237.0 L558.0 243.0 L566.7 247.5 L566.0 250.0 L556.0 250.0 L546.0 243.0Z" fill="#f8e3ad"/>
<path d="M515.0 211.7 L510.0 220.0 L498.3 226.7 L493.3 233.3 L486.7 238.3 L488.3 250.0 L483.3 255.0 L478.3 250.0 L473.3 256.7 L480.0 266.7 L483.3 273.3 L490.0 271.7 L495.0 280.0 L496.7 290.0 L493.3 298.3 L490.0 306.7 L483.3 301.7 L481.7 315.0 L478.3 310.0 L476.7 298.3 L470.0 303.3 L466.7 290.0 L463.3 278.3 L455.0 283.3 L450.0 276.7 L445.0 286.7 L440.0 288.3 L425.0 290.0 L425.0 200.0 L515.0 200.0Z" fill="#cf8f63"/>
<path d="M628.3 210.0 L640.0 215.0 L650.0 223.3 L663.3 213.3 L673.3 206.7 L683.3 213.3 L681.7 230.0 L678.3 246.7 L673.3 260.0 L665.0 268.3 L655.0 273.3 L651.7 281.7 L641.7 288.3 L630.0 293.3 L618.3 293.3 L613.3 303.3 L604.2 303.3 L605.8 286.7 L613.3 273.3 L618.3 260.0 L623.3 243.3 L626.7 226.7Z" fill="#c1fd7f"/>
<path d="M631.7 215.0 L638.3 218.3 L638.3 230.0 L633.3 246.7 L626.7 260.0 L620.0 273.3 L616.7 286.7 L611.7 298.3 L606.7 300.0 L608.3 290.0 L610.0 280.0 L616.7 273.3 L620.0 263.3 L623.3 253.3 L626.7 243.3 L630.0 231.7Z" fill="#f8e3ad"/>
<path d="M671.7 210.0 L680.0 215.0 L678.3 226.7 L676.7 236.7 L673.3 246.7 L670.0 256.7 L663.3 263.3 L653.3 268.3 L650.0 276.7 L641.7 283.3 L631.7 288.3 L626.7 286.7 L633.3 276.7 L638.3 266.7 L643.3 256.7 L650.0 246.7 L655.0 236.7 L660.0 226.7 L666.7 216.7Z" fill="#f8e3ad"/>
<g filter="url(#speck)" fill="#c1fd7f" stroke="#c1fd7f" stroke-width="19" stroke-linejoin="round">
<path d="M602.5 258.3 L605.0 251.7 L610.0 250.0 L615.8 253.3 L615.8 260.0 L608.3 260.0 L603.3 261.7Z"/>
<path d="M598.0 215.0 L603.0 211.0 L607.0 215.0 L605.0 228.0 L599.0 230.0Z"/>
<path d="M603.3 353.3 L613.3 346.7 L618.3 341.7 L623.3 345.0 L636.7 345.0 L643.3 353.3 L638.3 370.0 L636.7 383.3 L636.7 393.3 L630.0 400.0 L621.7 406.7 L611.7 410.0 L600.0 406.7 L590.0 398.3 L585.0 393.3 L593.3 386.7 L603.3 378.3 L606.7 370.0 L608.3 361.7Z"/>
<path d="M563.3 375.0 L571.7 363.3 L580.0 356.7 L593.3 353.3 L601.7 356.7 L596.7 368.3 L590.0 376.7 L580.0 380.0 L571.7 383.3 L563.3 386.7 L556.7 386.7 L560.0 380.0Z"/>
<path d="M530.0 378.3 L533.3 370.0 L540.0 363.3 L546.7 365.0 L553.3 363.3 L560.0 370.0 L558.3 378.3 L553.3 385.0 L545.0 390.0 L536.7 391.7 L533.3 385.0Z"/>
<path d="M560.0 380.0 L566.0 377.0 L569.0 383.0 L565.0 389.0 L559.0 387.0Z"/>
<path d="M536.7 340.0 L540.0 333.3 L546.7 328.3 L546.7 336.7 L543.3 345.0 L536.7 346.7Z"/>
<path d="M551.7 448.3 L556.7 444.2 L565.0 445.0 L571.7 451.7 L575.0 458.3 L573.3 470.0 L568.3 478.3 L560.0 481.7 L553.3 478.3 L551.7 468.3 L558.3 460.0 L555.0 455.0Z"/>
<path d="M586.7 448.3 L596.7 446.7 L610.0 451.7 L618.3 460.0 L630.0 463.3 L635.0 466.7 L626.7 473.3 L616.7 470.0 L606.7 475.0 L596.7 473.3 L590.0 465.0 L585.0 456.7Z"/>
<path d="M535.0 425.0 L540.0 422.0 L548.0 423.0 L553.0 425.0 L548.0 428.0 L538.0 428.0Z"/>
<path d="M456.7 400.0 L460.0 391.7 L465.0 385.0 L466.7 391.7 L463.3 401.7 L458.3 405.0Z"/>
<path d="M316.7 413.3 L326.7 415.0 L343.3 418.3 L350.0 421.7 L356.7 420.0 L360.0 415.0 L370.0 413.3 L376.7 413.3 L381.7 418.3 L390.0 420.0 L396.7 413.3 L401.7 410.0 L413.3 413.3 L425.0 406.7 L430.0 401.7 L435.0 396.7 L443.3 393.3 L445.0 385.0 L438.3 380.0 L435.0 370.0 L442.0 362.0 L452.0 357.0 L460.0 350.0 L460.0 340.0 L300.0 340.0 L300.0 410.0Z"/>
<path d="M316.5 416.2 L309.2 417.3 L301.9 419.4 L302.9 423.5 L313.3 422.5 L324.8 422.0 L334.2 425.1 L342.5 430.8 L345.6 439.2 L343.5 446.5 L337.3 450.6 L331.0 454.8 L324.8 460.0 L318.5 464.2 L312.3 468.3 L306.0 471.5 L299.8 474.6 L294.6 476.7 L292.5 485.0 L246.7 489.2 L205.0 437.1 L205.0 405.8 L257.1 390.2 L316.5 411.0Z"/>
<path d="M303.3 486.7 L320.0 490.0 L323.3 495.0 L315.0 498.3 L313.3 505.0 L303.3 505.0 L300.0 498.3Z"/>
<path d="M293.3 507.5 L289.2 513.3 L285.8 521.7 L290.0 526.7 L301.7 530.0 L313.3 528.3 L308.3 525.0 L296.7 523.3 L291.7 518.3 L295.0 511.7 L303.3 508.3 L296.0 504.0 L284.0 508.0 L280.0 524.0 L290.0 532.0Z"/>
<path d="M313.3 603.3 L323.3 600.0 L336.7 603.3 L346.7 606.7 L353.3 601.7 L363.3 603.3 L373.3 603.3 L375.0 611.7 L371.7 619.2 L372.0 630.0 L350.0 645.0 L320.0 645.0 L305.0 625.0 L305.0 605.0Z"/>
<path d="M386.7 621.7 L390.0 613.3 L396.7 615.0 L405.0 618.3 L413.3 620.0 L426.7 616.7 L438.3 611.7 L446.7 608.3 L455.0 610.0 L463.3 613.3 L470.0 616.7 L466.7 625.0 L463.3 633.3 L455.0 638.3 L450.0 643.3 L443.3 640.0 L435.0 636.7 L426.7 643.3 L418.3 646.7 L413.3 653.3 L418.0 660.0 L415.0 667.0 L406.0 669.0 L398.0 664.0 L392.0 660.0 L383.0 658.0 L372.0 660.0 L370.0 650.0 L380.0 640.0 L380.0 625.0Z"/>
<path d="M495.0 638.3 L501.7 633.3 L508.3 636.7 L511.7 645.0 L508.3 651.7 L501.7 653.3 L496.7 646.7Z"/>
<path d="M531.7 625.0 L536.7 621.7 L541.7 625.0 L540.0 630.0 L534.2 630.8Z"/>
<path d="M495.0 638.3 L501.7 634.2 L508.3 636.7 L510.8 643.3 L506.7 650.8 L500.0 651.7 L496.7 645.0Z"/>
<path d="M531.7 625.0 L536.7 621.7 L543.3 624.2 L542.5 630.0 L535.8 631.7Z"/>
<path d="M393.3 730.0 L400.0 721.7 L406.7 718.3 L410.0 723.3 L406.7 731.7 L413.3 740.0 L420.0 735.0 L426.7 740.0 L433.3 741.7 L426.7 746.7 L416.7 750.0 L408.3 753.3 L403.3 755.0 L400.0 750.0 L396.7 745.0 L390.0 741.7 L393.3 736.7Z"/>
<path d="M431.7 720.0 L438.3 713.3 L446.7 715.0 L453.3 718.3 L450.0 725.0 L440.0 723.3 L433.3 723.3Z"/>
<path d="M426.0 700.0 L431.0 695.0 L438.0 697.0 L436.0 704.0 L429.0 705.0Z"/>
<path d="M370.0 654.0 L386.0 654.0 L384.0 662.0 L378.0 667.0 L370.0 664.0Z"/>
<path d="M373.3 658.3 L380.0 668.3 L383.3 673.3 L381.7 681.7 L378.3 686.7 L375.0 693.3 L378.3 700.0 L377.5 706.7 L380.0 710.0 L375.0 720.0 L373.3 726.7 L370.0 733.3 L368.3 740.0 L366.7 740.0 L366.7 656.7Z"/>
<path d="M393.3 781.7 L390.8 786.7 L390.0 795.0 L386.7 806.7 L385.8 813.3 L381.7 813.3 L381.7 781.7Z"/>
</g>
<g filter="url(#speck2)" fill="#f8e3ad" stroke="#f8e3ad" stroke-width="10" stroke-linejoin="round">
<path d="M602.5 258.3 L605.0 251.7 L610.0 250.0 L615.8 253.3 L615.8 260.0 L608.3 260.0 L603.3 261.7Z"/>
<path d="M598.0 215.0 L603.0 211.0 L607.0 215.0 L605.0 228.0 L599.0 230.0Z"/>
<path d="M603.3 353.3 L613.3 346.7 L618.3 341.7 L623.3 345.0 L636.7 345.0 L643.3 353.3 L638.3 370.0 L636.7 383.3 L636.7 393.3 L630.0 400.0 L621.7 406.7 L611.7 410.0 L600.0 406.7 L590.0 398.3 L585.0 393.3 L593.3 386.7 L603.3 378.3 L606.7 370.0 L608.3 361.7Z"/>
<path d="M563.3 375.0 L571.7 363.3 L580.0 356.7 L593.3 353.3 L601.7 356.7 L596.7 368.3 L590.0 376.7 L580.0 380.0 L571.7 383.3 L563.3 386.7 L556.7 386.7 L560.0 380.0Z"/>
<path d="M530.0 378.3 L533.3 370.0 L540.0 363.3 L546.7 365.0 L553.3 363.3 L560.0 370.0 L558.3 378.3 L553.3 385.0 L545.0 390.0 L536.7 391.7 L533.3 385.0Z"/>
<path d="M560.0 380.0 L566.0 377.0 L569.0 383.0 L565.0 389.0 L559.0 387.0Z"/>
<path d="M536.7 340.0 L540.0 333.3 L546.7 328.3 L546.7 336.7 L543.3 345.0 L536.7 346.7Z"/>
<path d="M551.7 448.3 L556.7 444.2 L565.0 445.0 L571.7 451.7 L575.0 458.3 L573.3 470.0 L568.3 478.3 L560.0 481.7 L553.3 478.3 L551.7 468.3 L558.3 460.0 L555.0 455.0Z"/>
<path d="M586.7 448.3 L596.7 446.7 L610.0 451.7 L618.3 460.0 L630.0 463.3 L635.0 466.7 L626.7 473.3 L616.7 470.0 L606.7 475.0 L596.7 473.3 L590.0 465.0 L585.0 456.7Z"/>
<path d="M535.0 425.0 L540.0 422.0 L548.0 423.0 L553.0 425.0 L548.0 428.0 L538.0 428.0Z"/>
<path d="M456.7 400.0 L460.0 391.7 L465.0 385.0 L466.7 391.7 L463.3 401.7 L458.3 405.0Z"/>
<path d="M316.7 413.3 L326.7 415.0 L343.3 418.3 L350.0 421.7 L356.7 420.0 L360.0 415.0 L370.0 413.3 L376.7 413.3 L381.7 418.3 L390.0 420.0 L396.7 413.3 L401.7 410.0 L413.3 413.3 L425.0 406.7 L430.0 401.7 L435.0 396.7 L443.3 393.3 L445.0 385.0 L438.3 380.0 L435.0 370.0 L442.0 362.0 L452.0 357.0 L460.0 350.0 L460.0 340.0 L300.0 340.0 L300.0 410.0Z"/>
<path d="M316.5 416.2 L309.2 417.3 L301.9 419.4 L302.9 423.5 L313.3 422.5 L324.8 422.0 L334.2 425.1 L342.5 430.8 L345.6 439.2 L343.5 446.5 L337.3 450.6 L331.0 454.8 L324.8 460.0 L318.5 464.2 L312.3 468.3 L306.0 471.5 L299.8 474.6 L294.6 476.7 L292.5 485.0 L246.7 489.2 L205.0 437.1 L205.0 405.8 L257.1 390.2 L316.5 411.0Z"/>
<path d="M303.3 486.7 L320.0 490.0 L323.3 495.0 L315.0 498.3 L313.3 505.0 L303.3 505.0 L300.0 498.3Z"/>
<path d="M293.3 507.5 L289.2 513.3 L285.8 521.7 L290.0 526.7 L301.7 530.0 L313.3 528.3 L308.3 525.0 L296.7 523.3 L291.7 518.3 L295.0 511.7 L303.3 508.3 L296.0 504.0 L284.0 508.0 L280.0 524.0 L290.0 532.0Z"/>
<path d="M313.3 603.3 L323.3 600.0 L336.7 603.3 L346.7 606.7 L353.3 601.7 L363.3 603.3 L373.3 603.3 L375.0 611.7 L371.7 619.2 L372.0 630.0 L350.0 645.0 L320.0 645.0 L305.0 625.0 L305.0 605.0Z"/>
<path d="M386.7 621.7 L390.0 613.3 L396.7 615.0 L405.0 618.3 L413.3 620.0 L426.7 616.7 L438.3 611.7 L446.7 608.3 L455.0 610.0 L463.3 613.3 L470.0 616.7 L466.7 625.0 L463.3 633.3 L455.0 638.3 L450.0 643.3 L443.3 640.0 L435.0 636.7 L426.7 643.3 L418.3 646.7 L413.3 653.3 L418.0 660.0 L415.0 667.0 L406.0 669.0 L398.0 664.0 L392.0 660.0 L383.0 658.0 L372.0 660.0 L370.0 650.0 L380.0 640.0 L380.0 625.0Z"/>
<path d="M495.0 638.3 L501.7 633.3 L508.3 636.7 L511.7 645.0 L508.3 651.7 L501.7 653.3 L496.7 646.7Z"/>
<path d="M531.7 625.0 L536.7 621.7 L541.7 625.0 L540.0 630.0 L534.2 630.8Z"/>
<path d="M495.0 638.3 L501.7 634.2 L508.3 636.7 L510.8 643.3 L506.7 650.8 L500.0 651.7 L496.7 645.0Z"/>
<path d="M531.7 625.0 L536.7 621.7 L543.3 624.2 L542.5 630.0 L535.8 631.7Z"/>
<path d="M393.3 730.0 L400.0 721.7 L406.7 718.3 L410.0 723.3 L406.7 731.7 L413.3 740.0 L420.0 735.0 L426.7 740.0 L433.3 741.7 L426.7 746.7 L416.7 750.0 L408.3 753.3 L403.3 755.0 L400.0 750.0 L396.7 745.0 L390.0 741.7 L393.3 736.7Z"/>
<path d="M431.7 720.0 L438.3 713.3 L446.7 715.0 L453.3 718.3 L450.0 725.0 L440.0 723.3 L433.3 723.3Z"/>
<path d="M426.0 700.0 L431.0 695.0 L438.0 697.0 L436.0 704.0 L429.0 705.0Z"/>
<path d="M370.0 654.0 L386.0 654.0 L384.0 662.0 L378.0 667.0 L370.0 664.0Z"/>
<path d="M373.3 658.3 L380.0 668.3 L383.3 673.3 L381.7 681.7 L378.3 686.7 L375.0 693.3 L378.3 700.0 L377.5 706.7 L380.0 710.0 L375.0 720.0 L373.3 726.7 L370.0 733.3 L368.3 740.0 L366.7 740.0 L366.7 656.7Z"/>
<path d="M393.3 781.7 L390.8 786.7 L390.0 795.0 L386.7 806.7 L385.8 813.3 L381.7 813.3 L381.7 781.7Z"/>
</g>
<path d="M602.5 258.3 L605.0 251.7 L610.0 250.0 L615.8 253.3 L615.8 260.0 L608.3 260.0 L603.3 261.7Z" fill="#c1fd7f" stroke="#c1fd7f" stroke-width="9" stroke-linejoin="round"/>
<path d="M602.5 258.3 L605.0 251.7 L610.0 250.0 L615.8 253.3 L615.8 260.0 L608.3 260.0 L603.3 261.7Z" fill="#f8e3ad" stroke="#f8e3ad" stroke-width="4.5" stroke-linejoin="round"/>
<path d="M602.5 258.3 L605.0 251.7 L610.0 250.0 L615.8 253.3 L615.8 260.0 L608.3 260.0 L603.3 261.7Z" fill="#cf8f63"/>
<path d="M607.5 298.3 L610.0 288.3 L615.0 280.0 L620.0 273.3 L625.0 267.5 L627.5 271.7 L625.0 281.7 L620.0 290.0 L615.0 296.7 L610.0 300.0Z" fill="#cf8f63"/>
<path d="M633.3 285.0 L633.3 276.7 L638.3 271.7 L645.0 266.7 L650.0 268.3 L648.3 276.7 L641.7 281.7 L636.7 286.7Z" fill="#cf8f63"/>
<path d="M655.0 236.0 L658.0 233.0 L661.0 237.0 L659.0 242.0 L656.0 241.0Z" fill="#cf8f63"/>
<path d="M657.0 246.0 L661.0 244.0 L663.0 250.0 L660.0 253.0 L657.0 251.0Z" fill="#cf8f63"/>
<path d="M598.0 215.0 L603.0 211.0 L607.0 215.0 L605.0 228.0 L599.0 230.0Z" fill="#c1fd7f" stroke="#c1fd7f" stroke-width="7" stroke-linejoin="round"/>
<path d="M598.0 215.0 L603.0 211.0 L607.0 215.0 L605.0 228.0 L599.0 230.0Z" fill="#f8e3ad"/>
<path d="M603.3 353.3 L613.3 346.7 L618.3 341.7 L623.3 345.0 L636.7 345.0 L643.3 353.3 L638.3 370.0 L636.7 383.3 L636.7 393.3 L630.0 400.0 L621.7 406.7 L611.7 410.0 L600.0 406.7 L590.0 398.3 L585.0 393.3 L593.3 386.7 L603.3 378.3 L606.7 370.0 L608.3 361.7Z" fill="#c1fd7f" stroke="#c1fd7f" stroke-width="7" stroke-linejoin="round"/>
<path d="M603.3 353.3 L613.3 346.7 L618.3 341.7 L623.3 345.0 L636.7 345.0 L643.3 353.3 L638.3 370.0 L636.7 383.3 L636.7 393.3 L630.0 400.0 L621.7 406.7 L611.7 410.0 L600.0 406.7 L590.0 398.3 L585.0 393.3 L593.3 386.7 L603.3 378.3 L606.7 370.0 L608.3 361.7Z" fill="#f8e3ad"/>
<path d="M563.3 375.0 L571.7 363.3 L580.0 356.7 L593.3 353.3 L601.7 356.7 L596.7 368.3 L590.0 376.7 L580.0 380.0 L571.7 383.3 L563.3 386.7 L556.7 386.7 L560.0 380.0Z" fill="#c1fd7f" stroke="#c1fd7f" stroke-width="7" stroke-linejoin="round"/>
<path d="M563.3 375.0 L571.7 363.3 L580.0 356.7 L593.3 353.3 L601.7 356.7 L596.7 368.3 L590.0 376.7 L580.0 380.0 L571.7 383.3 L563.3 386.7 L556.7 386.7 L560.0 380.0Z" fill="#f8e3ad"/>
<path d="M508.0 360.0 L515.0 350.0 L524.0 343.0 L533.0 341.0 L531.0 349.0 L523.0 356.0 L515.0 364.0 L510.0 367.0Z" fill="#c1fd7f"/>
<path d="M530.0 378.3 L533.3 370.0 L540.0 363.3 L546.7 365.0 L553.3 363.3 L560.0 370.0 L558.3 378.3 L553.3 385.0 L545.0 390.0 L536.7 391.7 L533.3 385.0Z" fill="#c1fd7f" stroke="#c1fd7f" stroke-width="9" stroke-linejoin="round"/>
<path d="M530.0 378.3 L533.3 370.0 L540.0 363.3 L546.7 365.0 L553.3 363.3 L560.0 370.0 L558.3 378.3 L553.3 385.0 L545.0 390.0 L536.7 391.7 L533.3 385.0Z" fill="#f8e3ad" stroke="#f8e3ad" stroke-width="4.5" stroke-linejoin="round"/>
<path d="M530.0 378.3 L533.3 370.0 L540.0 363.3 L546.7 365.0 L553.3 363.3 L560.0 370.0 L558.3 378.3 L553.3 385.0 L545.0 390.0 L536.7 391.7 L533.3 385.0Z" fill="#cf8f63"/>
<path d="M536.7 370.0 L543.3 366.7 L546.7 373.3 L545.0 381.7 L538.3 386.7 L535.0 380.0Z" fill="#9c6947"/>
<path d="M560.0 380.0 L566.0 377.0 L569.0 383.0 L565.0 389.0 L559.0 387.0Z" fill="#c1fd7f" stroke="#c1fd7f" stroke-width="9" stroke-linejoin="round"/>
<path d="M560.0 380.0 L566.0 377.0 L569.0 383.0 L565.0 389.0 L559.0 387.0Z" fill="#f8e3ad" stroke="#f8e3ad" stroke-width="4.5" stroke-linejoin="round"/>
<path d="M560.0 380.0 L566.0 377.0 L569.0 383.0 L565.0 389.0 L559.0 387.0Z" fill="#cf8f63"/>
<path d="M571.7 370.0 L576.7 363.3 L585.0 360.0 L593.3 358.3 L595.0 365.0 L590.0 373.3 L580.0 376.7 L573.3 376.7Z" fill="#cf8f63"/>
<path d="M598.3 395.0 L603.3 386.7 L610.0 383.3 L616.7 383.3 L618.3 391.7 L615.0 401.7 L606.7 405.0 L600.0 403.3Z" fill="#cf8f63"/>
<path d="M605.0 372.0 L609.0 366.0 L615.0 368.0 L614.0 375.0 L608.0 377.0Z" fill="#cf8f63"/>
<path d="M616.7 345.0 L620.8 343.3 L621.7 353.3 L618.3 356.7Z" fill="#cf8f63"/>
<path d="M536.7 340.0 L540.0 333.3 L546.7 328.3 L546.7 336.7 L543.3 345.0 L536.7 346.7Z" fill="#c1fd7f" stroke="#c1fd7f" stroke-width="9" stroke-linejoin="round"/>
<path d="M536.7 340.0 L540.0 333.3 L546.7 328.3 L546.7 336.7 L543.3 345.0 L536.7 346.7Z" fill="#f8e3ad" stroke="#f8e3ad" stroke-width="4.5" stroke-linejoin="round"/>
<path d="M536.7 340.0 L540.0 333.3 L546.7 328.3 L546.7 336.7 L543.3 345.0 L536.7 346.7Z" fill="#cf8f63"/>
<path d="M551.7 448.3 L556.7 444.2 L565.0 445.0 L571.7 451.7 L575.0 458.3 L573.3 470.0 L568.3 478.3 L560.0 481.7 L553.3 478.3 L551.7 468.3 L558.3 460.0 L555.0 455.0Z" fill="#c1fd7f" stroke="#c1fd7f" stroke-width="6" stroke-linejoin="round"/>
<path d="M551.7 448.3 L556.7 444.2 L565.0 445.0 L571.7 451.7 L575.0 458.3 L573.3 470.0 L568.3 478.3 L560.0 481.7 L553.3 478.3 L551.7 468.3 L558.3 460.0 L555.0 455.0Z" fill="#f8e3ad" stroke="#f8e3ad" stroke-width="3" stroke-linejoin="round"/>
<path d="M551.7 448.3 L556.7 444.2 L565.0 445.0 L571.7 451.7 L575.0 458.3 L573.3 470.0 L568.3 478.3 L560.0 481.7 L553.3 478.3 L551.7 468.3 L558.3 460.0 L555.0 455.0Z" fill="#cf8f63"/>
<path d="M562.0 459.0 L566.0 457.0 L569.0 462.0 L567.0 468.0 L563.0 466.0Z" fill="#9c6947"/>
<path d="M586.7 448.3 L596.7 446.7 L610.0 451.7 L618.3 460.0 L630.0 463.3 L635.0 466.7 L626.7 473.3 L616.7 470.0 L606.7 475.0 L596.7 473.3 L590.0 465.0 L585.0 456.7Z" fill="#c1fd7f" stroke="#c1fd7f" stroke-width="7" stroke-linejoin="round"/>
<path d="M586.7 448.3 L596.7 446.7 L610.0 451.7 L618.3 460.0 L630.0 463.3 L635.0 466.7 L626.7 473.3 L616.7 470.0 L606.7 475.0 L596.7 473.3 L590.0 465.0 L585.0 456.7Z" fill="#f8e3ad"/>
<path d="M592.0 453.3 L598.0 450.5 L603.0 455.0 L604.5 464.0 L599.0 468.3 L595.0 461.0Z" fill="#cf8f63"/>
<path d="M535.0 425.0 L540.0 422.0 L548.0 423.0 L553.0 425.0 L548.0 428.0 L538.0 428.0Z" fill="#c1fd7f" stroke="#c1fd7f" stroke-width="9" stroke-linejoin="round"/>
<path d="M535.0 425.0 L540.0 422.0 L548.0 423.0 L553.0 425.0 L548.0 428.0 L538.0 428.0Z" fill="#f8e3ad" stroke="#f8e3ad" stroke-width="4.5" stroke-linejoin="round"/>
<path d="M535.0 425.0 L540.0 422.0 L548.0 423.0 L553.0 425.0 L548.0 428.0 L538.0 428.0Z" fill="#cf8f63"/>
<path d="M456.7 400.0 L460.0 391.7 L465.0 385.0 L466.7 391.7 L463.3 401.7 L458.3 405.0Z" fill="#c1fd7f" stroke="#c1fd7f" stroke-width="9" stroke-linejoin="round"/>
<path d="M456.7 400.0 L460.0 391.7 L465.0 385.0 L466.7 391.7 L463.3 401.7 L458.3 405.0Z" fill="#f8e3ad" stroke="#f8e3ad" stroke-width="4.5" stroke-linejoin="round"/>
<path d="M456.7 400.0 L460.0 391.7 L465.0 385.0 L466.7 391.7 L463.3 401.7 L458.3 405.0Z" fill="#cf8f63"/>
<path d="M316.7 413.3 L326.7 415.0 L343.3 418.3 L350.0 421.7 L356.7 420.0 L360.0 415.0 L370.0 413.3 L376.7 413.3 L381.7 418.3 L390.0 420.0 L396.7 413.3 L401.7 410.0 L413.3 413.3 L425.0 406.7 L430.0 401.7 L435.0 396.7 L443.3 393.3 L445.0 385.0 L438.3 380.0 L435.0 370.0 L442.0 362.0 L452.0 357.0 L460.0 350.0 L460.0 340.0 L300.0 340.0 L300.0 410.0Z" fill="#c1fd7f" stroke="#c1fd7f" stroke-width="10" stroke-linejoin="round"/>
<path d="M316.7 413.3 L326.7 415.0 L343.3 418.3 L350.0 421.7 L356.7 420.0 L360.0 415.0 L370.0 413.3 L376.7 413.3 L381.7 418.3 L390.0 420.0 L396.7 413.3 L401.7 410.0 L413.3 413.3 L425.0 406.7 L430.0 401.7 L435.0 396.7 L443.3 393.3 L445.0 385.0 L438.3 380.0 L435.0 370.0 L442.0 362.0 L452.0 357.0 L460.0 350.0 L460.0 340.0 L300.0 340.0 L300.0 410.0Z" fill="#f8e3ad" stroke="#f8e3ad" stroke-width="5" stroke-linejoin="round"/>
<path d="M316.7 413.3 L326.7 415.0 L343.3 418.3 L350.0 421.7 L356.7 420.0 L360.0 415.0 L370.0 413.3 L376.7 413.3 L381.7 418.3 L390.0 420.0 L396.7 413.3 L401.7 410.0 L413.3 413.3 L425.0 406.7 L430.0 401.7 L435.0 396.7 L443.3 393.3 L445.0 385.0 L438.3 380.0 L435.0 370.0 L442.0 362.0 L452.0 357.0 L460.0 350.0 L460.0 340.0 L300.0 340.0 L300.0 410.0Z" fill="#cf8f63"/>
<path d="M385.0 405.0 L392.0 396.0 L403.0 393.0 L410.0 398.0 L404.0 406.0 L395.0 410.0Z" fill="#f8e3ad"/>
<path d="M365.0 388.0 L372.0 385.0 L377.0 395.0 L374.0 406.0 L367.0 400.0Z" fill="#9c6947"/>
<path d="M415.0 399.0 L421.0 396.0 L425.0 401.0 L421.0 407.0 L416.0 405.0Z" fill="#9c6947"/>
<path d="M425.0 370.0 L432.0 365.0 L440.0 372.0 L437.0 385.0 L428.0 390.0Z" fill="#9c6947"/>
<path d="M316.5 416.2 L309.2 417.3 L301.9 419.4 L302.9 423.5 L313.3 422.5 L324.8 422.0 L334.2 425.1 L342.5 430.8 L345.6 439.2 L343.5 446.5 L337.3 450.6 L331.0 454.8 L324.8 460.0 L318.5 464.2 L312.3 468.3 L306.0 471.5 L299.8 474.6 L294.6 476.7 L292.5 485.0 L246.7 489.2 L205.0 437.1 L205.0 405.8 L257.1 390.2 L316.5 411.0Z" fill="#c1fd7f" stroke="#c1fd7f" stroke-width="13" stroke-linejoin="round"/>
<path d="M316.5 416.2 L309.2 417.3 L301.9 419.4 L302.9 423.5 L313.3 422.5 L324.8 422.0 L334.2 425.1 L342.5 430.8 L345.6 439.2 L343.5 446.5 L337.3 450.6 L331.0 454.8 L324.8 460.0 L318.5 464.2 L312.3 468.3 L306.0 471.5 L299.8 474.6 L294.6 476.7 L292.5 485.0 L246.7 489.2 L205.0 437.1 L205.0 405.8 L257.1 390.2 L316.5 411.0Z" fill="#f8e3ad" stroke="#f8e3ad" stroke-width="6.5" stroke-linejoin="round"/>
<path d="M316.5 416.2 L309.2 417.3 L301.9 419.4 L302.9 423.5 L313.3 422.5 L324.8 422.0 L334.2 425.1 L342.5 430.8 L345.6 439.2 L343.5 446.5 L337.3 450.6 L331.0 454.8 L324.8 460.0 L318.5 464.2 L312.3 468.3 L306.0 471.5 L299.8 474.6 L294.6 476.7 L292.5 485.0 L246.7 489.2 L205.0 437.1 L205.0 405.8 L257.1 390.2 L316.5 411.0Z" fill="#cf8f63"/>
<path d="M250.8 441.2 L255.0 434.0 L263.3 428.8 L273.8 425.6 L284.2 425.1 L294.6 426.7 L302.9 425.1 L313.3 423.5 L323.8 423.5 L332.1 426.7 L339.4 431.9 L342.5 439.2 L340.4 444.4 L334.2 448.5 L327.9 452.7 L321.7 457.9 L315.4 462.1 L309.2 466.2 L302.9 469.4 L296.7 472.5 L291.5 475.6 L286.2 477.7 L282.1 479.8 L277.9 480.8 L267.5 481.9 L255.0 484.0 L246.7 484.0 L246.7 476.7 L255.0 470.4 L261.2 465.2 L263.3 457.9 L257.1 451.7 L251.9 446.5Z" fill="#9c6947"/>
<path d="M259.2 443.3 L261.2 434.0 L269.6 428.8 L277.9 426.7 L288.3 428.8 L296.7 430.8 L305.0 426.7 L313.3 425.6 L317.5 429.8 L315.4 437.1 L311.2 443.3 L309.2 449.6 L305.0 453.8 L298.8 457.9 L292.5 460.0 L286.2 464.2 L282.1 468.3 L280.0 474.6 L277.9 479.8 L271.7 481.4 L263.3 481.9 L255.0 484.0 L246.7 484.0 L246.7 477.7 L251.9 474.6 L259.2 469.9 L264.4 465.7 L267.5 460.0 L263.3 455.8 L260.2 451.7 L257.1 447.5Z" fill="#974c19"/>
<path d="M218.5 434.0 L225.8 432.9 L232.1 437.1 L230.0 439.2 L222.7 437.1Z" fill="#f8e3ad"/>
<path d="M241.5 438.1 L246.7 435.0 L250.8 437.1 L246.7 441.2 L242.5 441.2Z" fill="#f8e3ad"/>
<path d="M303.3 486.7 L320.0 490.0 L323.3 495.0 L315.0 498.3 L313.3 505.0 L303.3 505.0 L300.0 498.3Z" fill="#c1fd7f" stroke="#c1fd7f" stroke-width="9" stroke-linejoin="round"/>
<path d="M303.3 486.7 L320.0 490.0 L323.3 495.0 L315.0 498.3 L313.3 505.0 L303.3 505.0 L300.0 498.3Z" fill="#f8e3ad" stroke="#f8e3ad" stroke-width="4.5" stroke-linejoin="round"/>
<path d="M303.3 486.7 L320.0 490.0 L323.3 495.0 L315.0 498.3 L313.3 505.0 L303.3 505.0 L300.0 498.3Z" fill="#cf8f63"/>
<path d="M293.3 507.5 L289.2 513.3 L285.8 521.7 L290.0 526.7 L301.7 530.0 L313.3 528.3 L308.3 525.0 L296.7 523.3 L291.7 518.3 L295.0 511.7 L303.3 508.3 L296.0 504.0 L284.0 508.0 L280.0 524.0 L290.0 532.0Z" fill="#c1fd7f" stroke="#c1fd7f" stroke-width="5" stroke-linejoin="round"/>
<path d="M293.3 507.5 L289.2 513.3 L285.8 521.7 L290.0 526.7 L301.7 530.0 L313.3 528.3 L308.3 525.0 L296.7 523.3 L291.7 518.3 L295.0 511.7 L303.3 508.3 L296.0 504.0 L284.0 508.0 L280.0 524.0 L290.0 532.0Z" fill="#f8e3ad" stroke="#f8e3ad" stroke-width="2.5" stroke-linejoin="round"/>
<path d="M293.3 507.5 L289.2 513.3 L285.8 521.7 L290.0 526.7 L301.7 530.0 L313.3 528.3 L308.3 525.0 L296.7 523.3 L291.7 518.3 L295.0 511.7 L303.3 508.3 L296.0 504.0 L284.0 508.0 L280.0 524.0 L290.0 532.0Z" fill="#cf8f63"/>
<path d="M313.3 603.3 L323.3 600.0 L336.7 603.3 L346.7 606.7 L353.3 601.7 L363.3 603.3 L373.3 603.3 L375.0 611.7 L371.7 619.2 L372.0 630.0 L350.0 645.0 L320.0 645.0 L305.0 625.0 L305.0 605.0Z" fill="#c1fd7f" stroke="#c1fd7f" stroke-width="8" stroke-linejoin="round"/>
<path d="M313.3 603.3 L323.3 600.0 L336.7 603.3 L346.7 606.7 L353.3 601.7 L363.3 603.3 L373.3 603.3 L375.0 611.7 L371.7 619.2 L372.0 630.0 L350.0 645.0 L320.0 645.0 L305.0 625.0 L305.0 605.0Z" fill="#f8e3ad" stroke="#f8e3ad" stroke-width="4" stroke-linejoin="round"/>
<path d="M313.3 603.3 L323.3 600.0 L336.7 603.3 L346.7 606.7 L353.3 601.7 L363.3 603.3 L373.3 603.3 L375.0 611.7 L371.7 619.2 L372.0 630.0 L350.0 645.0 L320.0 645.0 L305.0 625.0 L305.0 605.0Z" fill="#cf8f63"/>
<path d="M330.0 606.7 L343.3 611.7 L353.3 606.7 L363.3 608.3 L370.0 613.3 L366.0 624.0 L353.3 630.0 L346.7 621.7 L340.0 618.3 L336.7 611.7Z" fill="#9c6947"/>
<path d="M346.7 616.7 L360.0 615.0 L364.0 621.0 L357.0 628.0 L350.0 629.0Z" fill="#974c19"/>
<path d="M386.7 621.7 L390.0 613.3 L396.7 615.0 L405.0 618.3 L413.3 620.0 L426.7 616.7 L438.3 611.7 L446.7 608.3 L455.0 610.0 L463.3 613.3 L470.0 616.7 L466.7 625.0 L463.3 633.3 L455.0 638.3 L450.0 643.3 L443.3 640.0 L435.0 636.7 L426.7 643.3 L418.3 646.7 L413.3 653.3 L418.0 660.0 L415.0 667.0 L406.0 669.0 L398.0 664.0 L392.0 660.0 L383.0 658.0 L372.0 660.0 L370.0 650.0 L380.0 640.0 L380.0 625.0Z" fill="#c1fd7f" stroke="#c1fd7f" stroke-width="9" stroke-linejoin="round"/>
<path d="M386.7 621.7 L390.0 613.3 L396.7 615.0 L405.0 618.3 L413.3 620.0 L426.7 616.7 L438.3 611.7 L446.7 608.3 L455.0 610.0 L463.3 613.3 L470.0 616.7 L466.7 625.0 L463.3 633.3 L455.0 638.3 L450.0 643.3 L443.3 640.0 L435.0 636.7 L426.7 643.3 L418.3 646.7 L413.3 653.3 L418.0 660.0 L415.0 667.0 L406.0 669.0 L398.0 664.0 L392.0 660.0 L383.0 658.0 L372.0 660.0 L370.0 650.0 L380.0 640.0 L380.0 625.0Z" fill="#f8e3ad" stroke="#f8e3ad" stroke-width="4.5" stroke-linejoin="round"/>
<path d="M386.7 621.7 L390.0 613.3 L396.7 615.0 L405.0 618.3 L413.3 620.0 L426.7 616.7 L438.3 611.7 L446.7 608.3 L455.0 610.0 L463.3 613.3 L470.0 616.7 L466.7 625.0 L463.3 633.3 L455.0 638.3 L450.0 643.3 L443.3 640.0 L435.0 636.7 L426.7 643.3 L418.3 646.7 L413.3 653.3 L418.0 660.0 L415.0 667.0 L406.0 669.0 L398.0 664.0 L392.0 660.0 L383.0 658.0 L372.0 660.0 L370.0 650.0 L380.0 640.0 L380.0 625.0Z" fill="#cf8f63"/>
<path d="M390.0 626.7 L403.3 623.3 L413.3 625.0 L426.7 621.7 L440.0 618.3 L453.3 618.3 L463.3 620.0 L460.0 626.7 L443.3 630.0 L430.0 633.3 L420.0 640.0 L410.0 646.7 L405.0 655.0 L398.0 660.0 L388.0 658.0 L380.0 650.0 L384.0 640.0 L385.0 630.0Z" fill="#9c6947"/>
<path d="M388.0 632.0 L397.0 628.0 L408.0 630.0 L414.0 636.0 L410.0 644.0 L403.0 650.0 L398.0 657.0 L390.0 657.0 L384.0 650.0 L385.0 640.0Z" fill="#974c19"/>
<path d="M495.0 638.3 L501.7 633.3 L508.3 636.7 L511.7 645.0 L508.3 651.7 L501.7 653.3 L496.7 646.7Z" fill="#c1fd7f" stroke="#c1fd7f" stroke-width="9" stroke-linejoin="round"/>
<path d="M495.0 638.3 L501.7 633.3 L508.3 636.7 L511.7 645.0 L508.3 651.7 L501.7 653.3 L496.7 646.7Z" fill="#f8e3ad" stroke="#f8e3ad" stroke-width="4.5" stroke-linejoin="round"/>
<path d="M495.0 638.3 L501.7 633.3 L508.3 636.7 L511.7 645.0 L508.3 651.7 L501.7 653.3 L496.7 646.7Z" fill="#cf8f63"/>
<path d="M531.7 625.0 L536.7 621.7 L541.7 625.0 L540.0 630.0 L534.2 630.8Z" fill="#c1fd7f" stroke="#c1fd7f" stroke-width="7" stroke-linejoin="round"/>
<path d="M531.7 625.0 L536.7 621.7 L541.7 625.0 L540.0 630.0 L534.2 630.8Z" fill="#f8e3ad"/>
<path d="M495.0 638.3 L501.7 634.2 L508.3 636.7 L510.8 643.3 L506.7 650.8 L500.0 651.7 L496.7 645.0Z" fill="#c1fd7f" stroke="#c1fd7f" stroke-width="9" stroke-linejoin="round"/>
<path d="M495.0 638.3 L501.7 634.2 L508.3 636.7 L510.8 643.3 L506.7 650.8 L500.0 651.7 L496.7 645.0Z" fill="#f8e3ad" stroke="#f8e3ad" stroke-width="4.5" stroke-linejoin="round"/>
<path d="M495.0 638.3 L501.7 634.2 L508.3 636.7 L510.8 643.3 L506.7 650.8 L500.0 651.7 L496.7 645.0Z" fill="#cf8f63"/>
<path d="M531.7 625.0 L536.7 621.7 L543.3 624.2 L542.5 630.0 L535.8 631.7Z" fill="#c1fd7f" stroke="#c1fd7f" stroke-width="7" stroke-linejoin="round"/>
<path d="M531.7 625.0 L536.7 621.7 L543.3 624.2 L542.5 630.0 L535.8 631.7Z" fill="#f8e3ad"/>
<path d="M393.3 730.0 L400.0 721.7 L406.7 718.3 L410.0 723.3 L406.7 731.7 L413.3 740.0 L420.0 735.0 L426.7 740.0 L433.3 741.7 L426.7 746.7 L416.7 750.0 L408.3 753.3 L403.3 755.0 L400.0 750.0 L396.7 745.0 L390.0 741.7 L393.3 736.7Z" fill="#c1fd7f" stroke="#c1fd7f" stroke-width="9" stroke-linejoin="round"/>
<path d="M393.3 730.0 L400.0 721.7 L406.7 718.3 L410.0 723.3 L406.7 731.7 L413.3 740.0 L420.0 735.0 L426.7 740.0 L433.3 741.7 L426.7 746.7 L416.7 750.0 L408.3 753.3 L403.3 755.0 L400.0 750.0 L396.7 745.0 L390.0 741.7 L393.3 736.7Z" fill="#f8e3ad" stroke="#f8e3ad" stroke-width="4.5" stroke-linejoin="round"/>
<path d="M393.3 730.0 L400.0 721.7 L406.7 718.3 L410.0 723.3 L406.7 731.7 L413.3 740.0 L420.0 735.0 L426.7 740.0 L433.3 741.7 L426.7 746.7 L416.7 750.0 L408.3 753.3 L403.3 755.0 L400.0 750.0 L396.7 745.0 L390.0 741.7 L393.3 736.7Z" fill="#cf8f63"/>
<path d="M431.7 720.0 L438.3 713.3 L446.7 715.0 L453.3 718.3 L450.0 725.0 L440.0 723.3 L433.3 723.3Z" fill="#c1fd7f" stroke="#c1fd7f" stroke-width="9" stroke-linejoin="round"/>
<path d="M431.7 720.0 L438.3 713.3 L446.7 715.0 L453.3 718.3 L450.0 725.0 L440.0 723.3 L433.3 723.3Z" fill="#f8e3ad" stroke="#f8e3ad" stroke-width="4.5" stroke-linejoin="round"/>
<path d="M431.7 720.0 L438.3 713.3 L446.7 715.0 L453.3 718.3 L450.0 725.0 L440.0 723.3 L433.3 723.3Z" fill="#cf8f63"/>
<path d="M426.0 700.0 L431.0 695.0 L438.0 697.0 L436.0 704.0 L429.0 705.0Z" fill="#c1fd7f" stroke="#c1fd7f" stroke-width="9" stroke-linejoin="round"/>
<path d="M426.0 700.0 L431.0 695.0 L438.0 697.0 L436.0 704.0 L429.0 705.0Z" fill="#f8e3ad" stroke="#f8e3ad" stroke-width="4.5" stroke-linejoin="round"/>
<path d="M426.0 700.0 L431.0 695.0 L438.0 697.0 L436.0 704.0 L429.0 705.0Z" fill="#cf8f63"/>
<path d="M370.0 654.0 L386.0 654.0 L384.0 662.0 L378.0 667.0 L370.0 664.0Z" fill="#c1fd7f" stroke="#c1fd7f" stroke-width="9" stroke-linejoin="round"/>
<path d="M370.0 654.0 L386.0 654.0 L384.0 662.0 L378.0 667.0 L370.0 664.0Z" fill="#f8e3ad" stroke="#f8e3ad" stroke-width="4.5" stroke-linejoin="round"/>
<path d="M370.0 654.0 L386.0 654.0 L384.0 662.0 L378.0 667.0 L370.0 664.0Z" fill="#cf8f63"/>
<path d="M373.3 658.3 L380.0 668.3 L383.3 673.3 L381.7 681.7 L378.3 686.7 L375.0 693.3 L378.3 700.0 L377.5 706.7 L380.0 710.0 L375.0 720.0 L373.3 726.7 L370.0 733.3 L368.3 740.0 L366.7 740.0 L366.7 656.7Z" fill="#c1fd7f" stroke="#c1fd7f" stroke-width="5" stroke-linejoin="round"/>
<path d="M373.3 658.3 L380.0 668.3 L383.3 673.3 L381.7 681.7 L378.3 686.7 L375.0 693.3 L378.3 700.0 L377.5 706.7 L380.0 710.0 L375.0 720.0 L373.3 726.7 L370.0 733.3 L368.3 740.0 L366.7 740.0 L366.7 656.7Z" fill="#f8e3ad" stroke="#f8e3ad" stroke-width="2.5" stroke-linejoin="round"/>
<path d="M373.3 658.3 L380.0 668.3 L383.3 673.3 L381.7 681.7 L378.3 686.7 L375.0 693.3 L378.3 700.0 L377.5 706.7 L380.0 710.0 L375.0 720.0 L373.3 726.7 L370.0 733.3 L368.3 740.0 L366.7 740.0 L366.7 656.7Z" fill="#f8e3ad"/>
<path d="M393.3 781.7 L390.8 786.7 L390.0 795.0 L386.7 806.7 L385.8 813.3 L381.7 813.3 L381.7 781.7Z" fill="#c1fd7f" stroke="#c1fd7f" stroke-width="7" stroke-linejoin="round"/>
<path d="M393.3 781.7 L390.8 786.7 L390.0 795.0 L386.7 806.7 L385.8 813.3 L381.7 813.3 L381.7 781.7Z" fill="#f8e3ad" stroke="#f8e3ad" stroke-width="3" stroke-linejoin="round"/>
<path d="M393.3 781.7 L390.8 786.7 L390.0 795.0 L386.7 806.7 L385.8 813.3 L381.7 813.3 L381.7 781.7Z" fill="#cf8f63"/>
<path d="M406.7 760.0 L408.3 766.7 L405.0 773.3 L401.7 781.7 L398.3 790.0 L396.7 798.3 L398.3 806.7 L400.0 821.0 L393.3 821.0 L393.3 760.0Z" fill="#c1fd7f"/>
<path d="M391.7 810.0 L386.7 820.0 L385.0 830.0 L385.0 843.3 L387.5 853.3 L391.7 860.0 L394.2 870.0 L396.7 880.0 L400.0 888.3 L403.3 896.7 L413.3 900.0 L423.3 903.3 L430.0 906.7 L428.3 913.3 L425.0 920.0 L428.3 930.0 L430.0 940.0 L428.3 948.3 L425.0 956.7 L428.3 966.7 L430.0 973.3 L350.0 973.0 L350.0 810.0Z" fill="#c1fd7f"/>
<path d="M371.7 873.3 L378.3 866.7 L385.0 865.0 L388.3 873.3 L391.7 883.3 L388.3 888.3 L393.3 896.7 L396.7 903.3 L403.3 908.3 L411.7 913.3 L418.3 920.0 L423.3 928.3 L420.0 935.0 L423.3 943.3 L420.0 948.3 L415.0 943.3 L413.3 935.0 L408.3 930.0 L403.3 923.3 L396.7 918.3 L390.0 913.3 L386.7 910.0 L381.7 906.7 L376.7 898.3 L371.7 890.0 L368.3 881.7 L360.0 880.0 L360.0 870.0Z" fill="#f8e3ad" stroke="#f8e3ad" stroke-width="4" stroke-linejoin="round"/>
<path d="M371.7 873.3 L378.3 866.7 L385.0 865.0 L388.3 873.3 L391.7 883.3 L388.3 888.3 L393.3 896.7 L396.7 903.3 L403.3 908.3 L411.7 913.3 L418.3 920.0 L423.3 928.3 L420.0 935.0 L423.3 943.3 L420.0 948.3 L415.0 943.3 L413.3 935.0 L408.3 930.0 L403.3 923.3 L396.7 918.3 L390.0 913.3 L386.7 910.0 L381.7 906.7 L376.7 898.3 L371.7 890.0 L368.3 881.7 L360.0 880.0 L360.0 870.0Z" fill="#cf8f63"/>
<path d="M380.0 853.3 L385.0 856.7 L387.5 863.3 L383.3 866.7 L380.0 860.0 L372.0 858.0Z" fill="#f8e3ad" stroke="#f8e3ad" stroke-width="3" stroke-linejoin="round"/>
<path d="M380.0 853.3 L385.0 856.7 L387.5 863.3 L383.3 866.7 L380.0 860.0 L372.0 858.0Z" fill="#cf8f63"/>
<path d="M380.0 813.3 L386.7 811.7 L388.3 818.3 L383.3 821.7 L378.3 820.0 L374.0 812.0Z" fill="#f8e3ad" stroke="#f8e3ad" stroke-width="3" stroke-linejoin="round"/>
<path d="M380.0 813.3 L386.7 811.7 L388.3 818.3 L383.3 821.7 L378.3 820.0 L374.0 812.0Z" fill="#cf8f63"/>
<path d="M340.0 905.0 L368.0 912.0 L375.0 920.0 L386.7 916.7 L396.7 926.7 L410.0 936.7 L416.7 946.7 L423.3 956.7 L428.0 968.0 L430.0 1000.0 L340.0 1000.0Z" fill="#295007"/>
<path d="M357.0 950.0 L372.0 940.0 L385.0 952.0 L398.0 962.0 L410.0 975.0 L425.0 985.0 L420.0 995.0 L350.0 995.0Z" fill="#1d3705"/>
<path d="M368.0 922.0 L380.0 925.0 L392.0 935.0 L400.0 948.0 L396.0 955.0 L385.0 946.0 L374.0 936.0Z" fill="#346b06"/>
<path d="M396.7 936.7 L401.7 943.3 L403.3 953.3 L400.0 960.0 L405.0 966.7 L409.0 962.0 L407.0 950.0 L404.0 940.0Z" fill="#c1fd7f"/>
<path d="M375.0 920.0 L386.7 916.7 L390.0 923.3 L385.0 926.7 L378.3 926.7Z" fill="#c1fd7f"/>
<path d="M408.0 968.0 L414.0 962.0 L420.0 968.0 L424.0 978.0 L418.0 980.0 L412.0 975.0Z" fill="#9bd06a"/>
<path d="M452.1 421.1 L457.3 413.3 L462.5 408.1 L469.0 406.8 L472.9 413.3 L470.3 421.1 L465.1 426.4 L461.2 432.9 L459.9 440.7 L457.3 449.8 L446.9 447.2 L443.0 440.7 L446.9 431.6Z" fill="#346b06"/>
<path d="M470.3 429.0 L475.5 423.8 L483.3 426.4 L491.1 430.3 L493.8 434.2 L485.9 434.2 L478.1 432.9Z" fill="#9bd06a"/>
<path d="M506.8 412.0 L512.0 408.1 L517.2 410.7 L514.6 414.6 L508.1 415.3Z" fill="#9bd06a"/>
<path d="M519.8 426.4 L525.0 423.8 L527.6 431.6 L525.0 439.4 L521.1 436.8Z" fill="#9bd06a"/>
<path d="M416.9 369.1 L423.4 362.6 L429.9 363.9 L428.6 371.7 L422.1 375.6Z" fill="#f8e3ad"/>
<path d="M443.6 362.6 L448.8 360.6 L450.8 373.0 L448.2 384.7 L444.3 382.1 L444.9 371.7Z" fill="#c1fd7f"/>
<path d="M405.2 391.2 L411.7 382.1 L416.9 379.5 L415.6 387.3 L410.4 395.1 L406.5 397.7Z" fill="#f8e3ad"/>
<path d="M383.9 659.2 L380.8 637.3 L383.9 621.6 L390.2 612.3 L399.5 615.4 L408.9 613.8 L421.5 613.8 L430.8 610.7 L440.2 606.0 L452.8 604.4 L462.1 607.6 L471.5 615.4 L470.0 626.3 L459.0 632.6 L449.6 638.9 L452.8 642.0 L446.5 643.6 L440.2 640.4 L430.8 648.2 L421.5 657.6 L418.3 663.9 L412.1 670.2 L402.7 667.0 L396.4 662.3Z" fill="#cf8f63"/>
<path d="M383.9 657.6 L382.3 638.9 L385.5 623.2 L399.5 616.9 L415.2 615.4 L427.7 615.4 L440.2 609.1 L452.8 609.1 L462.1 612.3 L470.0 616.9 L466.8 624.8 L455.9 629.5 L446.5 632.6 L437.1 638.9 L430.8 645.1 L421.5 654.5 L415.2 662.3 L405.8 667.0 L399.5 660.8 L390.2 660.8Z" fill="#9c6947"/>
<path d="M385.5 654.5 L383.9 640.4 L387.0 626.3 L399.5 620.1 L412.1 618.5 L423.0 621.6 L430.8 616.9 L440.2 615.4 L446.5 620.1 L440.2 629.5 L430.8 635.7 L424.6 643.6 L415.2 651.4 L405.8 657.6 L396.4 659.2Z" fill="#974c19"/>
<path d="M326.0 602.9 L336.9 601.3 L349.5 604.4 L362.0 602.9 L374.5 604.4 L375.3 615.4 L366.7 621.6 L357.3 626.3 L349.5 627.9 L343.2 621.6 L335.4 615.4 L329.1 609.1Z" fill="#9c6947"/>
<path d="M347.9 616.9 L357.3 612.3 L368.2 612.3 L372.9 616.9 L363.6 623.2 L352.6 626.3Z" fill="#974c19"/>
</g></g>
<path d="M768.6 348.8 L769.9 346.6 L771.6 346.9 L771.0 349.4 L769.4 350.2Z" fill="#fff" stroke="none"/>
<path d="M774.6 350.2 L778.8 346.9 L780.7 346.0 L781.3 350.5 L778.8 351.6 L776.0 351.0Z" fill="#fff" stroke="none"/>
<path d="M786.5 351.9 L789.3 349.9 L790.4 350.7 L787.6 353.0Z" fill="#fff" stroke="none"/>
<path d="M769.1 352.1 L770.2 351.9 L771.0 357.1 L770.2 358.8 L769.4 356.0Z" fill="#fff" stroke="none"/>
<path d="M768.3 361.0 L770.5 359.9 L774.4 361.0 L774.9 363.2 L772.7 364.3 L769.9 365.4 L769.1 362.6Z" fill="#fff" stroke="none"/>
<path d="M774.9 356.8 L777.7 356.3 L777.4 357.7 L775.5 357.9Z" fill="#fff" stroke="none"/>
<path d="M780.7 357.9 L783.8 356.3 L787.1 356.0 L788.2 359.3 L788.2 362.6 L790.1 363.7 L791.5 361.0 L794.3 358.8 L797.6 358.2 L799.2 355.4 L800.3 357.1 L802.5 358.8 L802.0 362.6 L800.9 366.5 L799.8 370.4 L798.7 373.7 L795.9 373.1 L796.5 370.4 L797.0 367.6 L795.4 365.9 L792.6 365.9 L791.5 368.1 L790.9 370.4 L788.7 372.0 L786.0 371.7 L783.2 372.0 L782.9 369.8 L784.9 368.7 L787.1 367.0 L788.2 365.1 L786.5 363.7 L784.9 361.5 L784.3 358.8 L782.1 358.8Z" fill="#fff" stroke="none"/>
<path d="M765.5 371.7 L768.3 369.8 L771.0 370.6 L773.8 373.1 L772.2 374.0 L769.9 373.1 L769.4 371.5 L766.6 372.6Z" fill="#fff" stroke="none"/>
<path d="M772.2 377.5 L773.5 377.0 L774.6 379.2 L773.3 380.0Z" fill="#fff" stroke="none"/>
<path d="M787.1 377.5 L789.3 377.3 L791.5 379.2 L793.7 379.2 L796.5 379.8 L796.5 382.5 L794.3 384.7 L791.5 384.2 L789.3 385.8 L786.5 385.3 L784.9 384.2 L786.5 382.0 L787.1 379.8Z" fill="#fff" stroke="none"/>
<path d="M805.0 343.8 L807.0 343.3 L807.5 344.7 L806.1 348.3 L805.0 347.7Z" fill="#fff" stroke="none"/>
<path d="M792.0 373.7 L793.1 373.1 L793.1 375.3 L792.3 375.6Z" fill="#fff" stroke="none"/>
<path d="M785.8 521.0 L790.0 515.0 L796.0 513.5 L804.8 515.0 L805.0 540.0 L801.7 533.3 L795.0 528.3 L788.3 526.7Z" fill="#fff" stroke="none"/>
<path d="M872.1 91.3 L870.8 97.8 L869.3 107.6 L862.8 106.3 L853.6 106.3 L848.4 105.0 L843.2 102.4 L843.9 98.5 L838.0 99.8 L832.8 97.8 L828.9 99.1 L830.2 102.4 L835.4 104.3 L831.5 106.9 L826.3 109.5 L823.7 113.4 L825.0 117.3 L819.8 118.6 L821.1 123.9 L819.8 127.8 L815.9 129.1 L810.7 133.0 L804.2 134.9 L799.0 135.6 L793.8 138.2 L791.1 135.6 L785.9 140.1 L791.1 144.7 L795.1 147.3 L791.1 151.2 L787.2 148.6 L783.3 149.9 L779.4 144.7 L776.8 138.8 L770.3 140.8 L765.1 140.8 L763.8 143.4 L756.0 143.4 L754.7 133.0 L750.8 131.0 L744.3 131.7 L737.8 130.4 L729.9 134.9 L731.2 138.2 L735.2 140.8 L733.9 144.7 L737.8 148.6 L739.1 152.5 L733.9 155.1 L727.3 156.4 L724.7 160.3 L723.4 165.5 L716.9 166.8 L713.0 164.9 L711.7 161.6 L705.2 159.7 L701.3 162.9 L705.2 166.8 L700.0 171.4 L696.1 174.1 L695.0 181.8 L688.4 180.7 L680.6 181.8 L670.7 175.2 L664.0 173.0 L653.0 175.2 L649.6 180.7 L646.3 171.9 L637.5 173.0 L630.8 176.3 L618.7 177.4 L620.0 176.7 L618.3 183.3 L605.8 188.3 L608.3 196.7 L604.2 203.3 L602.5 215.0 L598.3 223.3 L594.2 228.3 L593.3 235.0 L588.3 235.0 L585.0 229.2 L583.3 230.8 L585.0 238.3 L580.0 240.8 L580.0 246.7 L566.7 247.5 L558.3 243.3 L550.0 236.7 L545.0 235.0 L540.0 238.3 L537.5 235.8 L542.5 231.7 L541.7 225.8 L531.7 223.3 L523.3 219.2 L516.7 213.3 L510.0 210.8 L506.7 213.3 L504.2 218.3 L500.0 213.3 L495.8 209.2 L492.5 205.0 L483.3 208.3 L475.0 209.2 L470.0 212.5 L470.8 218.3 L468.3 226.7 L464.2 231.7 L463.3 235.8 L458.3 237.5 L453.3 241.7 L446.7 239.2 L439.2 241.7 L436.7 246.7 L437.5 253.3 L435.0 258.3 L436.7 266.7 L441.7 268.3 L435.8 272.5 L441.7 275.0 L440.8 285.0 L437.5 293.3 L431.7 300.0 L426.7 304.2 L419.2 305.8 L416.7 310.8 L417.5 316.7 L430.0 317.5 L446.7 315.8 L456.7 320.0 L463.3 326.7 L466.7 331.7 L463.3 341.0 L456.0 345.0 L450.0 358.3 L421.7 360.0 L420.0 366.7 L415.8 368.3 L415.8 376.7 L413.3 383.3 L410.0 386.7 L400.0 385.0 L391.7 386.7 L386.7 381.7 L380.0 383.3 L358.3 386.7 L357.5 393.3 L351.7 390.0 L350.8 385.0 L346.7 384.2 L341.7 380.8 L336.7 381.7 L335.0 385.8 L325.0 384.2 L323.3 386.7 L322.5 395.0 L316.7 401.7 L314.2 407.5 L316.7 413.3 L315.0 415.8 L306.7 413.3 L293.3 412.5 L280.0 412.5 L270.0 411.7 L267.5 403.3 L263.3 399.2 L257.5 400.8 L251.7 405.0 L246.7 405.8 L240.0 410.8 L226.7 416.7 L221.7 415.8 L215.8 420.0 L216.7 426.7 L218.3 435.0 L222.5 433.3 L228.3 436.7 L240.0 440.0 L245.0 444.2 L250.0 446.7 L256.7 451.7 L261.7 455.0 L266.7 458.3 L269.2 465.0 L263.3 466.7 L258.3 470.0 L251.7 474.2 L250.0 480.8 L253.3 482.5 L258.3 478.3 L266.7 480.8 L278.3 480.8 L286.7 476.7 L293.3 477.5 L295.8 481.7 L290.8 486.7 L293.3 491.7 L298.3 495.0 L300.0 501.0 L303.3 505.0 L293.3 507.5 L289.2 513.3 L285.0 521.7 L290.0 526.7 L301.7 530.0 L310.0 533.3 L315.0 541.7 L322.5 546.7 L323.3 553.3 L318.3 563.3 L320.8 570.0 L310.0 573.3 L310.0 578.3 L314.2 583.3 L311.7 596.7 L310.0 608.3 L313.3 615.0 L312.5 625.0 L320.0 631.7 L326.7 637.5 L336.7 640.0 L343.3 635.0 L350.0 631.7 L353.3 626.7 L363.3 621.7 L371.7 619.2 L377.5 620.0 L378.3 625.0 L381.7 631.7 L383.3 638.3 L386.7 643.3 L385.0 651.7 L381.7 655.0 L375.0 656.7 L373.3 661.0 L374.2 663.3 L380.0 668.3 L383.3 673.3 L381.7 681.7 L378.3 686.7 L375.0 693.3 L378.3 700.0 L377.5 706.7 L380.0 710.0 L375.0 720.0 L373.3 726.7 L370.0 733.3 L368.3 740.0 L375.0 741.7 L381.7 745.0 L390.0 741.7 L396.7 745.0 L400.0 750.0 L405.0 755.0 L406.7 760.0 L400.0 765.0 L396.7 771.7 L393.3 781.7 L388.3 786.7 L386.7 795.0 L383.3 806.7 L383.3 813.3 L385.0 810.0 L380.0 816.7 L373.3 823.3 L368.3 831.7 L365.0 836.7 L370.0 843.3 L371.7 851.7 L380.0 856.7 L383.3 865.0 L378.3 873.3 L373.3 878.3 L368.3 881.7 L371.7 890.0 L376.7 898.3 L381.7 906.7 L386.7 913.3 L383.3 920.0 L375.0 920.0 L376.7 926.7 L371.7 933.3 L365.8 940.0 L366.7 946.7 L360.0 950.0 L356.7 953.3 L363.3 960.0 L373.3 970.0 L380.0 975.0 L390.0 980.8 L400.0 983.3 L410.0 986.7 L423.3 989.2 L430.0 990.0 L431.7 983.3 L443.3 976.7 L456.7 975.0 L468.3 970.0 L468.3 966.7 L480.0 960.0 L490.0 955.0 L496.7 950.0 L505.0 945.0 L513.3 941.7 L513.3 936.7 L518.3 930.0 L523.3 923.3 L524.2 916.7 L526.7 908.3 L525.0 898.3 L526.7 890.0 L530.0 883.3 L535.0 880.0 L535.8 875.0 L531.7 873.3 L530.0 865.0 L531.7 856.7 L540.0 848.3 L548.3 841.7 L556.7 835.0 L565.0 828.3 L573.3 823.3 L583.3 820.0 L593.3 819.2 L600.0 816.7 L610.0 813.3 L611.7 809.2 L620.0 808.3 L630.0 805.0 L640.0 801.7 L650.0 799.2 L660.0 796.7 L670.0 795.8 L680.0 796.7 L691.7 795.8 L700.8 795.0 L703.3 796.7 L708.3 798.3 L716.7 800.0 L725.0 805.8 L735.0 813.3 L745.0 819.2 L747.5 820.0 L741.7 816.7 L733.3 810.0 L725.0 801.7 L720.0 795.0 L721.7 789.2 L718.3 786.3 L713.3 787.5 L710.0 790.8 L701.7 792.5 L693.3 792.5 L683.3 791.7 L673.3 788.3 L665.0 781.7 L658.3 775.0 L653.3 768.3 L650.8 761.7 L653.3 756.7 L654.2 748.3 L658.3 738.3 L663.3 730.0 L670.0 720.0 L678.3 710.0 L686.7 700.0 L688.3 696.7 L695.0 688.3 L703.3 678.3 L710.0 670.0 L705.0 663.3 L704.2 655.0 L706.7 649.2 L711.7 644.2 L710.8 640.0 L715.0 635.0 L723.3 630.0 L730.0 625.8 L741.7 625.3 L753.3 626.7 L766.7 628.3 L783.3 630.8 L796.7 632.0 L806.7 630.8 L810.0 626.7 L810.8 620.0 L809.2 606.7 L807.5 586.7 L806.7 561.7 L806.3 540.0 L805.8 520.0 L806.7 511.0 L807.5 493.3 L806.7 476.7 L805.0 460.0 L801.7 446.7 L796.7 435.0 L792.5 425.0 L791.7 413.3 L793.3 400.0 L796.7 386.7 L800.0 373.3 L803.3 360.0 L806.7 350.0 L811.7 340.0 L818.3 330.0 L825.6 319.9 L843.3 292.5 L854.4 272.6 L863.3 252.7 L869.9 230.5 L872.1 212.8 L874.3 190.7 L879.9 168.5 L882.1 155.3 L886.5 139.8 L884.3 124.3 L883.6 116.0 L879.7 106.9 L875.1 99.1 L873.2 93.9Z" fill="none" stroke="#2c3a1c" stroke-width="0.8" stroke-linejoin="round"/>
<ellipse cx="698.3" cy="800.0" rx="2.3" ry="1.6" fill="#1b2a0c"/>
<ellipse cx="678.3" cy="806.7" rx="1.8" ry="1.2" fill="#1b2a0c"/>
<ellipse cx="687.5" cy="804.7" rx="1.5" ry="0.8" fill="#1b2a0c"/>
<ellipse cx="654.2" cy="810.0" rx="4" ry="1" fill="#1b2a0c"/>
<ellipse cx="661.7" cy="809.5" rx="1" ry="0.8" fill="#1b2a0c"/>
<ellipse cx="637.5" cy="812.5" rx="1.5" ry="1" fill="#1b2a0c"/>
<ellipse cx="616.7" cy="814.7" rx="1" ry="1" fill="#1b2a0c"/>
<ellipse cx="622.5" cy="814.7" rx="1" ry="0.8" fill="#1b2a0c"/>
<ellipse cx="597.5" cy="822.5" rx="1.6" ry="1.3" fill="#1b2a0c"/>
<ellipse cx="590.8" cy="823.0" rx="1" ry="0.8" fill="#1b2a0c"/>
<ellipse cx="583.3" cy="825.0" rx="1.3" ry="1" fill="#1b2a0c"/>
<ellipse cx="545.0" cy="847.5" rx="1" ry="1" fill="#1b2a0c"/>
<ellipse cx="547.5" cy="849.2" rx="1.2" ry="1" fill="#1b2a0c"/>
<ellipse cx="540.0" cy="860.8" rx="1" ry="1.2" fill="#1b2a0c"/>
<ellipse cx="538.0" cy="866.3" rx="1.4" ry="1.3" fill="#1b2a0c"/>
<ellipse cx="583.3" cy="825.0" rx="1.1" ry="1.1" fill="#1b2a0c"/>
<ellipse cx="545.0" cy="847.5" rx="1.1" ry="1.1" fill="#1b2a0c"/>
<ellipse cx="547.5" cy="849.2" rx="1.1" ry="1.1" fill="#1b2a0c"/>
<ellipse cx="540.0" cy="860.8" rx="1.1" ry="1.1" fill="#1b2a0c"/>
<ellipse cx="537.5" cy="865.8" rx="1.1" ry="1.1" fill="#1b2a0c"/>
<rect x="58.4" y="50.6" width="985.1" height="984.9999999999999" fill="none" stroke="#111" stroke-width="1.5"/>
<g stroke="#111" stroke-width="1.3"><line x1="177.1" y1="50.6" x2="177.1" y2="60.6"/><line x1="177.1" y1="1035.6" x2="177.1" y2="1025.6"/><line x1="340.2" y1="50.6" x2="340.2" y2="60.6"/><line x1="340.2" y1="1035.6" x2="340.2" y2="1025.6"/><line x1="503.3" y1="50.6" x2="503.3" y2="60.6"/><line x1="503.3" y1="1035.6" x2="503.3" y2="1025.6"/><line x1="666.5" y1="50.6" x2="666.5" y2="60.6"/><line x1="666.5" y1="1035.6" x2="666.5" y2="1025.6"/><line x1="829.6" y1="50.6" x2="829.6" y2="60.6"/><line x1="829.6" y1="1035.6" x2="829.6" y2="1025.6"/><line x1="992.7" y1="50.6" x2="992.7" y2="60.6"/><line x1="992.7" y1="1035.6" x2="992.7" y2="1025.6"/><line x1="58.4" y1="1003.2" x2="68.4" y2="1003.2"/><line x1="1043.5" y1="1003.2" x2="1033.5" y2="1003.2"/><line x1="58.4" y1="840.0" x2="68.4" y2="840.0"/><line x1="1043.5" y1="840.0" x2="1033.5" y2="840.0"/><line x1="58.4" y1="676.9" x2="68.4" y2="676.9"/><line x1="1043.5" y1="676.9" x2="1033.5" y2="676.9"/><line x1="58.4" y1="513.7" x2="68.4" y2="513.7"/><line x1="1043.5" y1="513.7" x2="1033.5" y2="513.7"/><line x1="58.4" y1="350.6" x2="68.4" y2="350.6"/><line x1="1043.5" y1="350.6" x2="1033.5" y2="350.6"/><line x1="58.4" y1="187.4" x2="68.4" y2="187.4"/><line x1="1043.5" y1="187.4" x2="1033.5" y2="187.4"/></g>
<g fill="#fff" stroke="#222" stroke-width="0.8">
<circle cx="105.3" cy="102.1" r="15.3" stroke="#111" stroke-width="1.6"/>
<path d="M105.3 68.3 L109.6 84.3 L101 84.3 Z"/><path d="M105.3 135.8 L109.6 120.3 L101 120.3 Z"/>
<path d="M71.7 102.1 L88 97.8 L88 106.4 Z"/><path d="M139 102.1 L123.2 97.8 L123.2 106.4 Z"/></g>
<g>
<circle cx="996.1" cy="990.4" r="20.2" fill="#fff" stroke="#000" stroke-width="2.6"/>
<path d="M1011.3 961.5 L1014.0 963.1 L1016.6 965.0 L1019.0 967.1 L1021.2 969.4 L1023.1 972.0 L1024.7 974.7 L1026.1 977.6 L1027.1 980.6 L1027.9 983.7 L1028.3 986.9 L1028.4 990.1 L1028.2 993.2 L1027.6 996.4 L1026.8 999.5 L1025.6 1002.4 L1024.1 1005.3 L1022.4 1007.9 L1020.4 1010.4 L1018.1 1012.7 L1015.7 1014.7 L1013.0 1016.5 L1010.2 1017.9 L1007.2 1019.1 L1004.2 1020.0 L1001.0 1020.6 L997.8 1020.8 L994.7 1020.7 L991.5 1020.3 L988.4 1019.6 L990.3 1013.0 L992.6 1013.7 L995.0 1014.1 L997.5 1014.2 L999.9 1014.1 L1002.3 1013.8 L1004.7 1013.2 L1007.0 1012.4 L1009.2 1011.4 L1011.3 1010.2 L1013.2 1008.7 L1015.0 1007.1 L1016.7 1005.3 L1018.1 1003.3 L1019.4 1001.2 L1020.4 999.0 L1021.2 996.7 L1021.8 994.4 L1022.1 992.0 L1022.2 989.5 L1022.0 987.1 L1021.6 984.7 L1021.0 982.4 L1020.1 980.1 L1019.0 977.9 L1017.7 975.9 L1016.3 973.9 L1014.6 972.2 L1012.7 970.6 L1010.7 969.2Z" fill="#000"/>
<g transform="translate(996.1,990.4)">
<path d="M-8.7 -17 L0 -3.1 L8.7 -17 L8.7 -18.2 A20.2 20.2 0 0 0 -8.7 -18.2 Z" fill="#000"/>
<path d="M-8.7 3.5 L-0.2 16.7 L8.7 3.5 L8.7 18 L0 20.4 L-8.7 18.4 Z" fill="#000"/>
<g transform="rotate(22)" fill="#000">
<rect x="-2.7" y="-39.5" width="5.4" height="19.5"/><rect x="-8" y="-32.3" width="16" height="5"/>
<rect x="-2.7" y="20" width="5.4" height="17.5"/><rect x="-8" y="25.2" width="16" height="4.6"/>
</g></g>
<rect x="994" y="1019.6" width="5.4" height="9" fill="#000"/>
</g>
<rect x="1099.2" y="50.6" width="392.0" height="984.9999999999999" fill="#fff" stroke="#111" stroke-width="1.5"/>
<line x1="1099.2" y1="156.6" x2="1491.2" y2="156.6" stroke="#111" stroke-width="2.8"/>
<line x1="1099.2" y1="589.4" x2="1491.2" y2="589.4" stroke="#111" stroke-width="2.8"/>
<line x1="1099.2" y1="982.0" x2="1491.2" y2="982.0" stroke="#111" stroke-width="2.8"/>
<filter id="wig" x="-2%" y="-2%" width="104%" height="104%"><feTurbulence type="fractalNoise" baseFrequency="0.18" numOctaves="2" seed="3" result="n"/><feDisplacementMap in="SourceGraphic" in2="n" scale="2.4" xChannelSelector="R" yChannelSelector="G"/></filter>
<g fill="none" stroke="#111" stroke-width="1.55" stroke-linejoin="round" stroke-linecap="round" filter="url(#wig)">
<path d="M1165.9 186.3 L1169.9 181.3 L1181.1 178.2 L1193.2 175.2 L1201.3 176.2 L1209.4 182.3 L1217.5 187.4 L1225.6 192.4 L1231.7 195.5 L1241.8 192.4 L1252.0 189.4 L1262.1 191.4 L1265.1 196.5 L1262.1 203.6 L1257.0 209.6 L1251.0 213.7 L1247.9 218.8 L1254.0 222.8 L1256.0 229.9 L1249.9 234.0 L1244.9 231.9 L1239.8 230.9 L1231.7 226.9 L1223.6 224.8 L1218.5 224.8 L1211.4 219.8 L1205.4 213.7 L1199.3 206.6 L1191.2 201.5 L1185.1 200.1 L1181.1 196.5 L1172.9 192.4 L1166.9 190.4 L1165.9 186.3"/>
<path d="M1185.1 200.1 L1178.0 205.6 L1177.0 208.6 L1179.0 214.7 L1180.0 222.8 L1185.1 228.9 L1193.2 231.9 L1201.3 235.0 L1207.4 234.0 L1209.4 227.9 L1218.5 224.8"/>
<path d="M1207.4 234.0 L1205.4 237.0 L1210.4 243.1 L1215.5 248.1 L1220.6 253.2 L1225.6 257.3 L1231.7 259.3 L1233.7 252.2 L1239.8 250.2 L1245.9 248.1 L1244.9 241.1 L1241.8 235.0 L1239.8 230.9"/>
<path d="M1205.4 237.0 L1201.3 238.0 L1193.2 241.1 L1192.2 249.2 L1187.1 256.3 L1183.1 264.4 L1193.2 266.4 L1201.3 268.4 L1209.4 267.4 L1215.5 263.3 L1221.6 259.3 L1220.6 253.2"/>
<path d="M1245.9 248.1 L1249.9 247.1 L1258.1 252.2 L1268.2 258.3 L1274.3 262.3 L1267.2 269.4 L1262.1 279.6 L1254.0 276.5 L1245.9 272.5 L1239.8 268.4 L1232.7 265.4 L1231.7 259.3"/>
<path d="M1193.2 266.4 L1191.2 268.4 L1195.2 272.5 L1201.3 275.5 L1205.4 281.6 L1209.4 287.7 L1210.4 291.7 L1216.5 289.7 L1221.6 286.6 L1221.6 291.7 L1227.7 289.7 L1225.6 281.6 L1223.6 273.5 L1225.6 265.4 L1229.7 260.3 L1225.6 257.3"/>
<path d="M1183.1 264.4 L1177.0 265.4 L1171.9 274.5 L1164.8 279.6 L1158.8 285.6 L1151.7 291.7 L1143.6 293.7 L1139.5 289.7 L1132.4 294.8 L1128.4 303.9 L1132.4 308.9 L1137.5 316.0 L1142.6 324.1 L1147.6 333.3 L1158.8 332.2 L1166.9 334.3 L1174.0 337.3 L1179.0 343.4 L1185.1 349.5 L1190.2 352.5 L1192.2 348.4 L1196.3 342.4 L1195.2 336.3 L1196.3 330.2 L1202.3 329.2 L1205.4 334.3 L1204.4 342.4 L1207.4 343.4 L1210.4 339.3 L1216.5 340.3 L1221.6 336.3 L1221.6 330.2 L1226.6 328.2 L1227.7 324.1 L1221.6 324.1 L1217.5 322.1 L1218.5 318.1 L1225.6 313.0 L1233.7 308.9 L1239.8 304.9 L1231.7 304.9 L1229.7 299.8 L1227.7 293.7 L1227.7 289.7"/>
<path d="M1262.1 279.6 L1272.2 283.6 L1282.4 289.7 L1292.5 294.8 L1300.0 297.8"/>
<path d="M1239.8 304.9 L1247.9 308.9 L1249.9 316.0 L1245.9 322.1 L1241.8 322.1 L1239.8 328.2 L1239.8 336.3 L1245.9 339.3 L1247.9 332.2 L1245.9 325.1 L1254.0 326.2 L1262.1 325.1 L1270.2 328.2 L1278.3 326.2 L1286.4 329.2 L1294.5 333.3 L1296.6 340.3 L1300.0 342.4"/>
<path d="M1147.6 333.3 L1145.6 336.3 L1136.5 337.3 L1126.3 338.3 L1118.2 338.3 L1112.2 342.4 L1111.1 346.4 L1115.2 346.4 L1116.2 351.5 L1122.3 355.5 L1132.4 355.5 L1140.5 351.5 L1145.6 351.5 L1136.5 356.6 L1128.4 360.6 L1122.3 361.6 L1121.3 363.6 L1126.3 368.7 L1133.4 374.8 L1138.5 380.1"/>
<path d="M1190.2 352.5 L1187.1 360.6 L1185.1 366.7 L1187.1 372.8 L1183.1 380.1"/>
<path d="M1266.2 372.8 L1270.2 364.7 L1278.3 360.6 L1286.4 354.5 L1282.4 346.4 L1288.4 342.4 L1296.6 340.3"/>
<path d="M1120.3 362.0 L1126.3 370.1 L1134.4 377.2 L1143.6 382.3 L1152.7 380.3 L1160.8 374.2 L1164.8 366.1 L1167.9 366.1 L1166.9 376.2 L1167.9 386.3 L1168.9 396.5 L1170.9 406.6 L1172.9 418.8 L1176.0 430.9 L1179.0 441.1 L1183.1 449.2 L1186.1 457.3 L1190.2 465.4 L1193.2 473.5 L1195.2 481.6 L1198.3 486.6 L1201.3 491.7 L1203.3 499.8 L1206.4 507.9 L1210.4 518.1 L1215.5 528.2 L1220.6 535.3 L1225.6 540.3 L1228.7 543.4"/>
<path d="M1265.1 475.5 L1264.5 469.4 L1263.1 461.3 L1262.1 455.2 L1265.1 448.1 L1272.2 445.1 L1276.3 439.0 L1282.4 435.0 L1289.5 430.9 L1290.5 427.9 L1300.0 422.8"/>
<path d="M1183.1 449.2 L1187.1 447.1 L1188.1 452.2 L1186.1 457.3"/>
<path d="M1183.1 447.1 L1189.2 437.0 L1197.3 431.9 L1205.4 426.9 L1212.5 422.8 L1219.6 416.7 L1226.6 412.7 L1229.7 411.7 L1228.7 420.8 L1226.6 428.9 L1228.7 437.0 L1227.7 443.1 L1223.6 445.1 L1222.6 453.2 L1219.6 456.3 L1221.6 463.3 L1223.6 465.4 L1228.7 464.4 L1228.7 467.4 L1224.6 470.4 L1231.7 471.4 L1237.8 474.5 L1241.8 479.6 L1241.8 483.6"/>
<path d="M1229.7 411.7 L1233.7 403.6 L1239.8 394.4 L1245.9 393.4 L1252.0 397.5 L1260.1 399.5 L1262.1 406.6 L1268.2 411.7 L1274.3 420.8 L1277.3 422.8 L1272.2 428.9 L1266.2 431.9 L1260.1 435.0 L1254.0 439.0 L1245.9 440.0 L1239.8 443.1 L1231.7 443.1 L1227.7 443.1"/>
<path d="M1187.1 360.0 L1188.1 368.1 L1197.3 372.2 L1205.4 374.2 L1213.5 378.2 L1219.6 374.2 L1225.6 371.1 L1231.7 374.2 L1241.8 372.2 L1254.0 371.1 L1266.2 372.2 L1272.2 364.1 L1276.3 360.0"/>
<path d="M1266.2 372.2 L1268.2 380.3 L1266.2 388.4 L1268.2 396.5 L1271.2 400.5 L1265.1 403.6 L1264.1 408.6 L1268.2 411.7"/>
<path d="M1167.9 366.1 L1170.5 372.2 L1169.7 380.3 L1170.9 388.4 L1172.9 389.6 L1177.0 387.4 L1178.0 382.3 L1181.1 376.2 L1182.1 369.1 L1185.1 368.1 L1187.1 360.0"/>
<path d="M1300.0 378.2 L1294.5 377.2 L1291.5 382.3 L1290.5 390.4 L1294.5 393.4 L1289.5 392.4 L1285.4 393.4 L1286.4 400.5 L1287.4 408.6 L1282.4 413.7 L1278.3 418.8 L1277.3 422.8"/>
<path d="M1274.3 420.8 L1282.4 417.8 L1290.5 413.7 L1300.0 408.6"/>
<path d="M1198.3 486.6 L1201.3 489.7 L1206.4 492.7 L1210.4 494.8 L1214.5 498.8 L1215.9 499.8"/>
<path d="M1290.0 292.7 L1298.1 295.8 L1310.3 297.8 L1320.4 299.8 L1330.5 304.9 L1340.7 306.9 L1350.8 309.9 L1362.9 309.9"/>
<path d="M1362.9 299.8 L1365.0 290.7 L1370.0 288.7 L1373.5 290.7 L1373.5 299.8 L1371.1 301.8 L1364.0 301.8 L1362.9 299.8"/>
<path d="M1364.0 301.8 L1362.9 309.9 L1367.0 311.0 L1373.1 311.0 L1379.2 314.0 L1384.2 315.0 L1385.2 306.9 L1379.2 304.9 L1373.1 301.8"/>
<path d="M1385.2 306.9 L1395.4 304.9 L1407.5 303.9 L1414.6 303.9 L1411.6 297.8 L1407.5 293.7 L1415.6 291.7 L1423.7 286.6 L1431.8 281.6 L1439.9 276.5 L1447.0 273.5 L1456.2 275.5 L1465.3 271.4 L1468.3 276.5 L1469.3 283.6 L1478.4 285.6 L1482.1 289.7 L1479.5 294.8 L1473.4 297.8 L1477.4 301.8 L1473.4 299.8 L1466.3 298.8 L1459.2 302.9 L1454.1 305.9"/>
<path d="M1414.6 303.9 L1423.7 302.9 L1431.8 301.8 L1439.9 296.8 L1450.1 292.7 L1463.3 290.7 L1464.3 297.8 L1459.2 302.9"/>
<path d="M1454.1 305.9 L1452.1 314.0 L1450.1 321.1 L1444.0 322.1 L1435.9 324.1 L1431.8 322.1 L1435.9 316.0 L1444.0 309.9 L1450.1 305.9 L1454.1 305.9"/>
<path d="M1444.0 322.1 L1448.1 326.2 L1446.0 334.3 L1441.0 343.4 L1431.8 340.3 L1426.8 338.3 L1429.8 330.2 L1431.8 324.1"/>
<path d="M1419.7 338.3 L1426.8 338.3 L1430.8 344.4 L1429.8 352.5 L1427.8 360.6 L1424.8 367.7 L1420.7 366.7 L1418.7 354.5 L1417.7 344.4 L1419.7 338.3"/>
<path d="M1403.5 344.4 L1407.5 339.3 L1413.6 336.3 L1416.6 338.3 L1415.6 344.4 L1411.6 349.5 L1407.5 354.5 L1404.5 351.5 L1403.5 344.4"/>
<path d="M1385.2 320.1 L1387.3 316.0 L1397.4 317.0 L1407.5 316.0 L1415.6 315.0 L1419.7 320.1 L1423.7 325.1 L1419.7 328.2 L1409.6 327.2 L1397.4 326.2 L1387.3 325.1 L1385.2 320.1"/>
<path d="M1384.2 315.0 L1386.3 316.0 L1387.3 316.0"/>
<path d="M1419.7 328.2 L1417.7 332.2 L1419.7 338.3"/>
<path d="M1362.9 309.9 L1360.9 318.1 L1365.0 320.1 L1373.1 322.1 L1375.1 325.1 L1368.0 328.2 L1364.0 334.3 L1369.0 338.3 L1372.1 346.4 L1373.1 354.5 L1375.1 362.6 L1376.7 370.7 L1371.1 371.8 L1362.9 371.8 L1361.9 364.7 L1356.9 369.7 L1350.8 366.7 L1345.7 361.6 L1339.6 357.6 L1334.6 351.5 L1340.7 347.4 L1348.8 342.4 L1354.8 338.3 L1359.9 332.2 L1360.9 325.1 L1359.9 320.1"/>
<path d="M1310.3 297.8 L1313.3 305.9 L1311.3 311.0 L1316.3 318.1 L1310.3 322.1 L1304.2 326.2 L1303.2 332.2 L1305.2 335.3 L1314.3 334.3 L1320.4 336.3 L1330.5 333.3 L1338.6 330.2 L1348.8 332.2 L1354.8 327.2 L1359.9 324.1"/>
<path d="M1305.2 335.3 L1308.2 342.4 L1312.3 348.4 L1315.3 355.5 L1311.3 360.6 L1320.4 361.6 L1328.5 364.7 L1334.6 366.7 L1338.6 360.6 L1342.7 359.6 L1345.7 361.6"/>
<path d="M1290.0 332.2 L1296.1 333.3 L1296.1 340.3 L1290.0 343.4"/>
<path d="M1290.0 380.1 L1298.1 376.8 L1304.2 368.7 L1311.3 360.6"/>
<path d="M1361.9 370.4 L1354.8 371.4 L1350.8 375.5 L1350.8 382.6 L1346.7 387.6 L1340.7 391.7 L1330.5 396.7 L1320.4 402.8 L1314.3 408.9 L1306.2 417.0 L1298.1 423.1 L1290.0 429.2"/>
<path d="M1311.3 360.3 L1320.4 361.3 L1328.5 364.3 L1334.6 366.3 L1338.6 360.3 L1342.7 359.3 L1350.8 370.4 L1356.9 371.4"/>
<path d="M1311.3 360.3 L1305.2 366.3 L1302.2 376.5 L1294.1 379.5 L1290.0 383.6 L1292.0 391.7 L1294.1 393.7"/>
<path d="M1290.0 410.9 L1296.1 411.9 L1300.1 404.8 L1306.2 402.8 L1312.3 406.9 L1318.4 404.8 L1320.4 402.8"/>
<path d="M1417.7 509.8 L1419.7 507.8 L1421.7 509.2 L1420.7 512.2 L1418.3 512.6 L1417.7 509.8" stroke-width="0.9"/>
<path d="M1427.8 539.6 L1431.8 542.6 L1433.9 544.7 L1430.8 545.7 L1428.8 542.6 L1427.8 539.6" stroke-width="0.9"/>
<path d="M1431.8 550.7 L1435.9 552.8 L1437.9 558.8 L1434.9 560.1 L1432.9 554.8 L1431.8 550.7" stroke-width="0.9"/>
</g>
<path d="M1424.8 471.7 L1427.8 472.7 L1427.4 481.8 L1428.2 489.9 L1426.8 496.0 L1423.7 500.1 L1422.7 504.1 L1420.7 502.1 L1419.7 496.0 L1421.3 487.9 L1422.7 479.8Z" fill="#111"/>
<path d="M1361.9 364.7 L1363.4 367.7 L1365.0 370.7 L1368.0 369.7 L1371.1 371.8 L1373.5 369.7 L1376.1 370.7 L1376.7 372.4 L1362.1 372.4Z" fill="#111"/>
<circle cx="1161.8" cy="498.8" r="0.9" fill="#111"/>
<circle cx="1167.9" cy="497.8" r="0.9" fill="#111"/>
<circle cx="1171.9" cy="499.8" r="0.9" fill="#111"/>
<circle cx="1168.9" cy="503.9" r="0.9" fill="#111"/>
<circle cx="1162.8" cy="507.9" r="0.9" fill="#111"/>
<circle cx="1166.9" cy="511.6" r="0.9" fill="#111"/>
<circle cx="1180.0" cy="508.9" r="0.9" fill="#111"/>
<circle cx="1163.2" cy="517.6" r="0.9" fill="#111"/>
<circle cx="1180.0" cy="517.0" r="0.9" fill="#111"/>
<circle cx="1172.5" cy="540.3" r="0.9" fill="#111"/>
<circle cx="1442.0" cy="474.8" r="0.9" fill="#111"/>
<circle cx="1436.9" cy="489.9" r="0.9" fill="#111"/>
<circle cx="1416.0" cy="499.1" r="0.9" fill="#111"/>
<circle cx="1416.0" cy="506.6" r="0.9" fill="#111"/>
<circle cx="1422.7" cy="529.5" r="0.9" fill="#111"/>
<circle cx="1433.5" cy="537.6" r="0.9" fill="#111"/>
<path d="M1264.5 473.6 L1264.4 474.1 L1264.3 474.8 L1263.8 474.7 L1263.0 474.7 L1262.6 474.6 L1262.2 474.4 L1262.3 474.1 L1261.8 474.2 L1261.4 474.1 L1261.1 474.2 L1261.2 474.4 L1261.6 474.6 L1261.3 474.8 L1260.9 475.0 L1260.7 475.3 L1260.8 475.6 L1260.4 475.7 L1260.5 476.1 L1260.4 476.4 L1260.1 476.5 L1259.7 476.8 L1259.2 476.9 L1258.8 477.0 L1258.4 477.2 L1258.1 477.0 L1257.7 477.3 L1258.1 477.7 L1258.5 477.9 L1258.1 478.2 L1257.8 478.0 L1257.5 478.1 L1257.2 477.7 L1257.0 477.2 L1256.5 477.4 L1256.1 477.4 L1256.0 477.6 L1255.4 477.6 L1255.3 476.8 L1255.0 476.6 L1254.5 476.7 L1254.0 476.6 L1253.3 476.9 L1253.4 477.2 L1253.8 477.4 L1253.7 477.7 L1254.0 478.0 L1254.1 478.3 L1253.7 478.5 L1253.1 478.6 L1252.9 478.9 L1252.8 479.3 L1252.3 479.4 L1252.0 479.3 L1251.9 479.0 L1251.4 478.9 L1251.1 479.1 L1251.4 479.4 L1251.0 479.8 L1250.7 480.0 L1250.6 480.6 L1250.1 480.5 L1249.5 480.6 L1248.7 480.1 L1248.2 479.9 L1247.3 480.1 L1247.1 480.5 L1246.8 479.8 L1246.1 479.9 L1245.6 480.2 L1244.6 480.2 L1244.7 480.2 L1244.6 480.7 L1243.6 481.1 L1243.8 481.7 L1243.5 482.2 L1243.4 483.2 L1243.0 483.8 L1242.7 484.2 L1242.6 484.7 L1242.2 484.7 L1242.0 484.3 L1241.9 484.4 L1242.0 485.0 L1241.6 485.2 L1241.6 485.6 L1240.6 485.7 L1239.9 485.4 L1239.2 484.8 L1238.8 484.7 L1238.5 485.0 L1238.3 484.8 L1238.7 484.5 L1238.6 484.0 L1237.8 483.8 L1237.1 483.5 L1236.6 483.0 L1236.1 482.8 L1235.8 483.0 L1235.7 483.4 L1235.3 483.0 L1235.0 482.7 L1234.7 482.4 L1234.0 482.6 L1233.4 482.7 L1233.0 483.0 L1233.0 483.4 L1232.8 484.1 L1232.5 484.5 L1232.4 484.8 L1232.1 484.9 L1231.7 485.2 L1231.1 485.0 L1230.6 485.2 L1230.4 485.6 L1230.4 486.1 L1230.2 486.5 L1230.4 487.2 L1230.8 487.3 L1230.3 487.6 L1230.8 487.8 L1230.7 488.6 L1230.4 489.2 L1230.0 489.8 L1229.6 490.1 L1229.0 490.2 L1228.8 490.6 L1228.9 491.0 L1229.8 491.1 L1231.1 491.0 L1231.9 491.3 L1232.4 491.8 L1232.7 492.2 L1232.4 492.9 L1231.9 493.2 L1231.4 494.3 L1229.2 494.4 L1229.0 494.9 L1228.7 495.1 L1228.7 495.7 L1228.5 496.2 L1228.3 496.5 L1227.5 496.3 L1226.8 496.5 L1226.4 496.1 L1225.9 496.2 L1224.2 496.5 L1224.1 497.0 L1223.7 496.7 L1223.6 496.3 L1223.3 496.3 L1222.9 496.0 L1222.5 496.1 L1222.4 496.4 L1221.6 496.3 L1221.5 496.5 L1221.4 497.1 L1221.0 497.6 L1220.8 498.1 L1221.0 498.5 L1220.8 498.7 L1220.2 498.5 L1219.1 498.5 L1218.1 498.5 L1217.3 498.4 L1217.1 497.8 L1216.8 497.5 L1216.3 497.6 L1215.9 497.9 L1215.5 498.0 L1214.9 498.4 L1213.9 498.8 L1213.5 498.7 L1213.0 499.1 L1213.1 499.6 L1213.2 500.2 L1213.6 500.1 L1214.0 500.4 L1214.9 500.6 L1215.3 500.9 L1215.7 501.1 L1216.2 501.5 L1216.6 501.8 L1217.0 502.0 L1217.2 502.6 L1216.8 502.7 L1216.4 502.9 L1215.9 503.3 L1215.7 503.8 L1216.0 503.9 L1216.4 503.6 L1217.0 503.8 L1217.9 503.8 L1218.6 503.5 L1219.1 503.5 L1219.3 503.9 L1218.9 504.2 L1219.1 504.6 L1219.5 504.9 L1219.6 505.4 L1219.9 505.7 L1219.1 505.9 L1218.8 506.3 L1218.5 507.0 L1218.9 507.3 L1219.8 507.6 L1220.4 507.9 L1220.8 508.5 L1221.4 508.9 L1221.5 509.4 L1221.1 510.2 L1221.3 510.7 L1220.4 511.0 L1220.4 511.3 L1220.8 511.7 L1220.6 512.8 L1220.4 513.7 L1220.7 514.2 L1220.6 515.0 L1221.2 515.5 L1221.7 515.9 L1222.5 516.1 L1223.0 515.7 L1223.6 515.5 L1223.8 515.1 L1224.6 514.7 L1225.3 514.5 L1225.7 514.6 L1225.8 515.0 L1226.0 515.5 L1226.2 516.0 L1226.4 516.4 L1226.3 517.0 L1226.0 517.3 L1225.5 517.4 L1225.4 517.8 L1225.5 517.9 L1225.9 518.3 L1226.2 518.7 L1226.0 519.4 L1225.8 519.8 L1225.5 520.3 L1225.8 520.8 L1225.7 521.3 L1225.9 521.6 L1225.5 522.3 L1225.4 522.9 L1225.1 523.4 L1225.0 523.9 L1225.5 524.0 L1226.0 524.3 L1226.7 524.0 L1227.2 524.3 L1227.5 524.7 L1227.9 525.1 L1228.0 525.4 L1227.5 525.8 L1227.2 526.4 L1227.0 527.1 L1226.6 527.5 L1226.4 528.2 L1226.2 529.1 L1226.2 529.6 L1226.3 529.3 L1225.9 529.8 L1225.4 530.4 L1225.0 531.0 L1224.7 531.4 L1225.1 531.9 L1225.3 532.6 L1225.9 533.0 L1226.2 533.6 L1225.8 534.2 L1225.4 534.6 L1225.0 534.9 L1225.3 535.5 L1225.7 536.2 L1226.0 536.8 L1226.4 537.3 L1226.2 537.9 L1225.5 537.9 L1225.7 538.4 L1225.3 538.9 L1224.8 539.4 L1224.9 539.9 L1224.3 540.2 L1224.1 540.4 L1224.6 541.0 L1225.4 541.7 L1225.9 542.1 L1226.7 542.6 L1227.5 542.8 L1228.3 543.0 L1229.3 543.2 L1229.8 543.3 L1230.0 542.8 L1230.9 542.3 L1231.9 542.1 L1232.8 541.7 L1232.8 541.5 L1233.8 541.0 L1234.5 540.6 L1235.1 540.2 L1235.7 539.8 L1236.4 539.5 L1236.4 539.2 L1236.8 538.6 L1237.1 538.1 L1237.2 537.6 L1237.4 537.0 L1237.3 536.2 L1237.4 535.5 L1237.7 535.0 L1238.1 534.8 L1238.1 534.4 L1237.8 534.2 L1237.7 533.6 L1237.8 533.0 L1238.5 532.3 L1239.1 531.8 L1239.8 531.3 L1240.4 530.7 L1241.1 530.4 L1241.9 530.1 L1242.6 530.0 L1243.2 529.8 L1243.9 529.6 L1244.1 529.3 L1244.7 529.2 L1245.5 528.9 L1246.3 528.7 L1247.1 528.5 L1247.9 528.3 L1248.6 528.2 L1249.4 528.3 L1250.4 528.2 L1251.1 528.2 L1251.3 528.3 L1251.7 528.4 L1252.3 528.6 L1253.0 529.0 L1253.7 529.6 L1254.5 530.0 L1254.7 530.1 L1254.3 529.8 L1253.6 529.3 L1253.0 528.7 L1252.6 528.2 L1252.7 527.7 L1252.4 527.5 L1252.0 527.6 L1251.8 527.8 L1251.1 528.0 L1250.5 528.0 L1249.7 527.9 L1248.9 527.6 L1248.3 527.1 L1247.7 526.6 L1247.3 526.1 L1247.1 525.6 L1247.3 525.2 L1247.4 524.5 L1247.7 523.8 L1248.1 523.1 L1248.6 522.3 L1249.3 521.6 L1250.0 520.8 L1250.1 520.5 L1250.6 519.9 L1251.3 519.1 L1251.8 518.5 L1251.4 517.9 L1251.3 517.3 L1251.5 516.9 L1251.9 516.5 L1251.8 516.1 L1252.2 515.7 L1252.8 515.4 L1253.4 515.0 L1254.3 515.0 L1255.2 515.1 L1256.2 515.2 L1257.5 515.4 L1258.6 515.5 L1259.4 515.4 L1259.6 515.1 L1259.7 514.6 L1259.6 513.6 L1259.4 512.0 L1259.4 510.1 L1259.3 508.4 L1259.3 506.8 L1259.4 506.1 L1259.4 504.8 L1259.4 503.5 L1259.2 502.2 L1259.0 501.1 L1258.6 500.2 L1258.3 499.5 L1258.2 498.5 L1258.3 497.5 L1258.6 496.5 L1258.8 495.4 L1259.1 494.4 L1259.4 493.6 L1259.8 492.9 L1260.3 492.1 L1260.8 491.3 L1262.2 489.2 L1263.1 487.6 L1263.8 486.1 L1264.3 484.4 L1264.5 483.0 L1264.7 481.3 L1265.1 479.5 L1265.3 478.5 L1265.6 477.3 L1265.5 476.1 L1265.4 475.5 L1265.1 474.8 L1264.7 474.2 L1264.6 473.8Z" fill="#fe0000" stroke="#400" stroke-width="0.5"/>
<rect x="1200.7" y="470.4" width="77.2" height="76.4" fill="none" stroke="#ef8f8f" stroke-width="0.9"/>
<rect x="1270.8" y="921.3" width="35.6" height="20.2" fill="#fff" stroke="#222" stroke-width="1.1"/>
</svg>
<div class="tick" style="left:157.1px;top:30.5px;width:40px;text-align:center">76</div>
<div class="tick" style="left:157.1px;top:1038.5px;width:40px;text-align:center">76</div>
<div class="tick" style="left:320.2px;top:30.5px;width:40px;text-align:center">77</div>
<div class="tick" style="left:320.2px;top:1038.5px;width:40px;text-align:center">77</div>
<div class="tick" style="left:483.3px;top:30.5px;width:40px;text-align:center">78</div>
<div class="tick" style="left:483.3px;top:1038.5px;width:40px;text-align:center">78</div>
<div class="tick" style="left:646.5px;top:30.5px;width:40px;text-align:center">79</div>
<div class="tick" style="left:646.5px;top:1038.5px;width:40px;text-align:center">79</div>
<div class="tick" style="left:809.6px;top:30.5px;width:40px;text-align:center">80</div>
<div class="tick" style="left:809.6px;top:1038.5px;width:40px;text-align:center">80</div>
<div class="tick" style="left:972.7px;top:30.5px;width:40px;text-align:center">81</div>
<div class="tick" style="left:972.7px;top:1038.5px;width:40px;text-align:center">81</div>
<div class="tick" style="left:13.2px;top:994.9px;width:40px;text-align:right">8</div>
<div class="tick" style="left:1049.5px;top:994.9px;">8</div>
<div class="tick" style="left:13.2px;top:831.7px;width:40px;text-align:right">9</div>
<div class="tick" style="left:1049.5px;top:831.7px;">9</div>
<div class="tick" style="left:13.2px;top:668.6px;width:40px;text-align:right">10</div>
<div class="tick" style="left:1049.5px;top:668.6px;">10</div>
<div class="tick" style="left:13.2px;top:505.4px;width:40px;text-align:right">11</div>
<div class="tick" style="left:1049.5px;top:505.4px;">11</div>
<div class="tick" style="left:13.2px;top:342.3px;width:40px;text-align:right">12</div>
<div class="tick" style="left:1049.5px;top:342.3px;">12</div>
<div class="tick" style="left:13.2px;top:179.1px;width:40px;text-align:right">13</div>
<div class="tick" style="left:1049.5px;top:179.1px;">13</div>
<div class="title">TAMIL NADU</div>
<div class="url">www.mapduniya.com</div>
<div class="sw" style="left:1109.5px;top:673.5px;background:#1d3705"></div>
<div class="lg" style="left:1157px;top:674.0px">&lt;= 50 <span class="mi">मी</span>0</div>
<div class="sw" style="left:1109.5px;top:707.0px;background:#295007"></div>
<div class="lg" style="left:1157px;top:707.5px">50 - 100 <span class="mi">मी</span>0</div>
<div class="sw" style="left:1109.5px;top:740.4px;background:#346b06"></div>
<div class="lg" style="left:1157px;top:740.9px">100 - 200 <span class="mi">मी</span>0</div>
<div class="sw" style="left:1109.5px;top:773.9px;background:#4d9b07"></div>
<div class="lg" style="left:1157px;top:774.4px">200 - 300 <span class="mi">मी</span>0</div>
<div class="sw" style="left:1109.5px;top:807.3px;background:#9bd06a"></div>
<div class="lg" style="left:1157px;top:807.8px">300 - 500 <span class="mi">मी</span>0</div>
<div class="sw" style="left:1109.5px;top:840.8px;background:#c1fd7f"></div>
<div class="lg" style="left:1157px;top:841.2px">500 - 600 <span class="mi">मी</span>0</div>
<div class="sw" style="left:1109.5px;top:874.2px;background:#f8e3ad"></div>
<div class="lg" style="left:1157px;top:874.7px">600 - 800 <span class="mi">मी</span>0</div>
<div class="sw" style="left:1109.5px;top:907.7px;background:#cf8f63"></div>
<div class="lg" style="left:1157px;top:908.2px">800 - 1200 <span class="mi">मी</span>0</div>
<div class="sw" style="left:1109.5px;top:941.1px;background:#9c6947"></div>
<div class="lg" style="left:1157px;top:941.6px">1200 - 1800 <span class="mi">मी</span>0</div>
<div class="sw" style="left:1270.5px;top:619.0px;background:#974c19"></div>
<div class="lg" style="left:1317.5px;top:619.5px">1800 - 2400 <span class="mi">मी</span>0</div>
<div class="sw" style="left:1270.5px;top:652.5px;background:#693303"></div>
<div class="lg" style="left:1317.5px;top:653.0px">2400 - 3000 <span class="mi">मी</span>0</div>
<div class="sw" style="left:1270.5px;top:686.0px;background:#858585"></div>
<div class="lg" style="left:1317.5px;top:686.5px">3000 - 4000 <span class="mi">मी</span>0</div>
<div class="sw" style="left:1270.5px;top:719.5px;background:#9b9b9b"></div>
<div class="lg" style="left:1317.5px;top:720.0px">4000 - 5000 <span class="mi">मी</span>0</div>
<div class="sw" style="left:1270.5px;top:753.0px;background:#b3b3b3"></div>
<div class="lg" style="left:1317.5px;top:753.5px">5000 - 6000 <span class="mi">मी</span>0</div>
<div class="sw" style="left:1270.5px;top:786.5px;background:#cccccc"></div>
<div class="lg" style="left:1317.5px;top:787.0px">6000 - 6500 <span class="mi">मी</span>0</div>
<div class="sw" style="left:1270.5px;top:820.0px;background:#e4e4e4"></div>
<div class="lg" style="left:1317.5px;top:820.5px">6500 - 7000 <span class="mi">मी</span>0</div>
<div class="sw" style="left:1270.5px;top:853.5px;background:#f0f0f0"></div>
<div class="lg" style="left:1317.5px;top:854.0px">7000 - 8000 <span class="mi">मी</span>0</div>
<div class="sw" style="left:1270.5px;top:887.0px;background:#ffffff"></div>
<div class="lg" style="left:1317.5px;top:887.5px">8000 - 9000 <span class="mi">मी</span>0</div>
<div class="lgs" style="left:1156.5px;top:646.5px">Elevation</div>
<div class="lgs" style="left:1317.5px;top:921.5px">State Boundary</div>
<svg width="60" height="36" viewBox="0 0 60 36" style="left:1108.3px;top:611px"><text x="0.3" y="25.5" font-family="Liberation Serif, serif" font-size="22" fill="#1a1a1a">ऊंचाई</text></svg>
<svg width="1536" height="1086" viewBox="0 0 1536 1086" style="pointer-events:none"><text x="770" y="561.5" text-anchor="middle" font-family="Liberation Sans, sans-serif" font-weight="bold" font-size="131" textLength="1338" lengthAdjust="spacingAndGlyphs" fill="none" stroke="#000" stroke-opacity="0.062" stroke-width="5.5" stroke-linejoin="round">www.mapduniya.com</text></svg>
</body></html>
